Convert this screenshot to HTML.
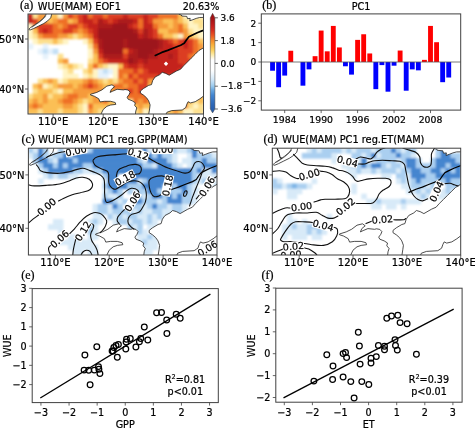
<!DOCTYPE html>
<html><head><meta charset="utf-8"><title>WUE EOF figure</title>
<style>html,body{margin:0;padding:0;background:#fff;} svg{display:block;}</style></head>
<body><svg width="475" height="429" viewBox="0 0 475 429" font-family="DejaVu Sans, Liberation Sans, sans-serif" fill="#000">
<style>text{stroke:#000;stroke-width:0.22px;}</style>
<rect width="475" height="429" fill="#fff"/>
<clipPath id="ca"><rect x="28" y="14" width="175.5" height="100"/></clipPath>
<g clip-path="url(#ca)"><g filter="url(#blurca)">
<filter id="blurca" x="-5%" y="-5%" width="110%" height="110%"><feGaussianBlur stdDeviation="1.0"/></filter>
<rect x="27.70" y="13.70" width="5.61" height="5.60" fill="#c4241d"/>
<rect x="32.71" y="13.70" width="5.61" height="5.60" fill="#fde08e"/>
<rect x="37.73" y="13.70" width="10.63" height="5.60" fill="#f69a3a"/>
<rect x="47.76" y="13.70" width="10.63" height="5.60" fill="#fbbf55"/>
<rect x="57.79" y="13.70" width="5.61" height="5.60" fill="#fff4c4"/>
<rect x="62.80" y="13.70" width="5.61" height="5.60" fill="#f69a3a"/>
<rect x="67.81" y="13.70" width="5.61" height="5.60" fill="#dc3d20"/>
<rect x="72.83" y="13.70" width="5.61" height="5.60" fill="#ef6f27"/>
<rect x="77.84" y="13.70" width="5.61" height="5.60" fill="#dc3d20"/>
<rect x="82.86" y="13.70" width="5.61" height="5.60" fill="#c4241d"/>
<rect x="87.87" y="13.70" width="5.61" height="5.60" fill="#ef6f27"/>
<rect x="92.89" y="13.70" width="10.63" height="5.60" fill="#dc3d20"/>
<rect x="102.91" y="13.70" width="5.61" height="5.60" fill="#ef6f27"/>
<rect x="107.93" y="13.70" width="15.64" height="5.60" fill="#dc3d20"/>
<rect x="122.97" y="13.70" width="5.61" height="5.60" fill="#c4241d"/>
<rect x="127.99" y="13.70" width="15.64" height="5.60" fill="#dc3d20"/>
<rect x="143.03" y="13.70" width="5.61" height="5.60" fill="#c4241d"/>
<rect x="148.04" y="13.70" width="10.63" height="5.60" fill="#dc3d20"/>
<rect x="158.07" y="13.70" width="20.66" height="5.60" fill="#ef6f27"/>
<rect x="178.13" y="13.70" width="5.61" height="5.60" fill="#fbbf55"/>
<rect x="183.14" y="13.70" width="20.66" height="5.60" fill="#fff4c4"/>
<rect x="27.70" y="18.70" width="5.61" height="5.60" fill="#c4241d"/>
<rect x="32.71" y="18.70" width="5.61" height="5.60" fill="#dc3d20"/>
<rect x="37.73" y="18.70" width="10.63" height="5.60" fill="#f69a3a"/>
<rect x="47.76" y="18.70" width="5.61" height="5.60" fill="#fbbf55"/>
<rect x="52.77" y="18.70" width="5.61" height="5.60" fill="#f69a3a"/>
<rect x="57.79" y="18.70" width="10.63" height="5.60" fill="#ef6f27"/>
<rect x="67.81" y="18.70" width="5.61" height="5.60" fill="#fbbf55"/>
<rect x="72.83" y="18.70" width="5.61" height="5.60" fill="#f69a3a"/>
<rect x="77.84" y="18.70" width="5.61" height="5.60" fill="#dc3d20"/>
<rect x="82.86" y="18.70" width="10.63" height="5.60" fill="#c4241d"/>
<rect x="92.89" y="18.70" width="5.61" height="5.60" fill="#dc3d20"/>
<rect x="97.90" y="18.70" width="5.61" height="5.60" fill="#ac1a1b"/>
<rect x="102.91" y="18.70" width="5.61" height="5.60" fill="#c4241d"/>
<rect x="107.93" y="18.70" width="5.61" height="5.60" fill="#dc3d20"/>
<rect x="112.94" y="18.70" width="5.61" height="5.60" fill="#c4241d"/>
<rect x="117.96" y="18.70" width="15.64" height="5.60" fill="#ac1a1b"/>
<rect x="133.00" y="18.70" width="5.61" height="5.60" fill="#c4241d"/>
<rect x="138.01" y="18.70" width="5.61" height="5.60" fill="#ef6f27"/>
<rect x="143.03" y="18.70" width="5.61" height="5.60" fill="#c4241d"/>
<rect x="148.04" y="18.70" width="5.61" height="5.60" fill="#dc3d20"/>
<rect x="153.06" y="18.70" width="10.63" height="5.60" fill="#f69a3a"/>
<rect x="163.09" y="18.70" width="10.63" height="5.60" fill="#fbbf55"/>
<rect x="173.11" y="18.70" width="5.61" height="5.60" fill="#f69a3a"/>
<rect x="178.13" y="18.70" width="5.61" height="5.60" fill="#fbbf55"/>
<rect x="183.14" y="18.70" width="5.61" height="5.60" fill="#fde08e"/>
<rect x="188.16" y="18.70" width="5.61" height="5.60" fill="#fff4c4"/>
<rect x="193.17" y="18.70" width="10.63" height="5.60" fill="#fde08e"/>
<rect x="27.70" y="23.70" width="5.61" height="5.60" fill="#fff4c4"/>
<rect x="32.71" y="23.70" width="5.61" height="5.60" fill="#ef6f27"/>
<rect x="37.73" y="23.70" width="15.64" height="5.60" fill="#dc3d20"/>
<rect x="52.77" y="23.70" width="5.61" height="5.60" fill="#ef6f27"/>
<rect x="57.79" y="23.70" width="5.61" height="5.60" fill="#f69a3a"/>
<rect x="62.80" y="23.70" width="5.61" height="5.60" fill="#ef6f27"/>
<rect x="67.81" y="23.70" width="10.63" height="5.60" fill="#dc3d20"/>
<rect x="77.84" y="23.70" width="5.61" height="5.60" fill="#ef6f27"/>
<rect x="82.86" y="23.70" width="5.61" height="5.60" fill="#dc3d20"/>
<rect x="87.87" y="23.70" width="10.63" height="5.60" fill="#c4241d"/>
<rect x="97.90" y="23.70" width="15.64" height="5.60" fill="#ac1a1b"/>
<rect x="112.94" y="23.70" width="15.64" height="5.60" fill="#9d151a"/>
<rect x="127.99" y="23.70" width="5.61" height="5.60" fill="#c4241d"/>
<rect x="133.00" y="23.70" width="5.61" height="5.60" fill="#dc3d20"/>
<rect x="138.01" y="23.70" width="5.61" height="5.60" fill="#ef6f27"/>
<rect x="143.03" y="23.70" width="10.63" height="5.60" fill="#c4241d"/>
<rect x="153.06" y="23.70" width="5.61" height="5.60" fill="#ef6f27"/>
<rect x="158.07" y="23.70" width="10.63" height="5.60" fill="#f69a3a"/>
<rect x="168.10" y="23.70" width="5.61" height="5.60" fill="#fbbf55"/>
<rect x="173.11" y="23.70" width="5.61" height="5.60" fill="#f69a3a"/>
<rect x="178.13" y="23.70" width="5.61" height="5.60" fill="#ef6f27"/>
<rect x="183.14" y="23.70" width="5.61" height="5.60" fill="#fbbf55"/>
<rect x="188.16" y="23.70" width="10.63" height="5.60" fill="#fff4c4"/>
<rect x="198.19" y="23.70" width="5.61" height="5.60" fill="#fde08e"/>
<rect x="27.70" y="28.70" width="5.61" height="5.60" fill="#fff4c4"/>
<rect x="32.71" y="28.70" width="5.61" height="5.60" fill="#fbbf55"/>
<rect x="37.73" y="28.70" width="5.61" height="5.60" fill="#dc3d20"/>
<rect x="42.74" y="28.70" width="5.61" height="5.60" fill="#c4241d"/>
<rect x="47.76" y="28.70" width="5.61" height="5.60" fill="#dc3d20"/>
<rect x="52.77" y="28.70" width="10.63" height="5.60" fill="#ef6f27"/>
<rect x="62.80" y="28.70" width="10.63" height="5.60" fill="#dc3d20"/>
<rect x="72.83" y="28.70" width="5.61" height="5.60" fill="#ef6f27"/>
<rect x="77.84" y="28.70" width="5.61" height="5.60" fill="#f69a3a"/>
<rect x="82.86" y="28.70" width="5.61" height="5.60" fill="#ef6f27"/>
<rect x="87.87" y="28.70" width="5.61" height="5.60" fill="#dc3d20"/>
<rect x="92.89" y="28.70" width="5.61" height="5.60" fill="#c4241d"/>
<rect x="97.90" y="28.70" width="35.70" height="5.60" fill="#9d151a"/>
<rect x="133.00" y="28.70" width="5.61" height="5.60" fill="#ac1a1b"/>
<rect x="138.01" y="28.70" width="5.61" height="5.60" fill="#dc3d20"/>
<rect x="143.03" y="28.70" width="5.61" height="5.60" fill="#ac1a1b"/>
<rect x="148.04" y="28.70" width="5.61" height="5.60" fill="#c4241d"/>
<rect x="153.06" y="28.70" width="5.61" height="5.60" fill="#dc3d20"/>
<rect x="158.07" y="28.70" width="10.63" height="5.60" fill="#fbbf55"/>
<rect x="168.10" y="28.70" width="10.63" height="5.60" fill="#f69a3a"/>
<rect x="178.13" y="28.70" width="5.61" height="5.60" fill="#ef6f27"/>
<rect x="183.14" y="28.70" width="5.61" height="5.60" fill="#f69a3a"/>
<rect x="188.16" y="28.70" width="5.61" height="5.60" fill="#fde08e"/>
<rect x="193.17" y="28.70" width="10.63" height="5.60" fill="#fff4c4"/>
<rect x="27.70" y="33.70" width="5.61" height="5.60" fill="#fff4c4"/>
<rect x="32.71" y="33.70" width="5.61" height="5.60" fill="#fde08e"/>
<rect x="37.73" y="33.70" width="5.61" height="5.60" fill="#f69a3a"/>
<rect x="42.74" y="33.70" width="15.64" height="5.60" fill="#ef6f27"/>
<rect x="57.79" y="33.70" width="10.63" height="5.60" fill="#f69a3a"/>
<rect x="67.81" y="33.70" width="5.61" height="5.60" fill="#fbbf55"/>
<rect x="72.83" y="33.70" width="5.61" height="5.60" fill="#fde08e"/>
<rect x="77.84" y="33.70" width="5.61" height="5.60" fill="#fbbf55"/>
<rect x="82.86" y="33.70" width="5.61" height="5.60" fill="#f69a3a"/>
<rect x="87.87" y="33.70" width="5.61" height="5.60" fill="#ef6f27"/>
<rect x="92.89" y="33.70" width="5.61" height="5.60" fill="#c4241d"/>
<rect x="97.90" y="33.70" width="40.71" height="5.60" fill="#9d151a"/>
<rect x="138.01" y="33.70" width="5.61" height="5.60" fill="#c4241d"/>
<rect x="143.03" y="33.70" width="5.61" height="5.60" fill="#ac1a1b"/>
<rect x="148.04" y="33.70" width="5.61" height="5.60" fill="#c4241d"/>
<rect x="153.06" y="33.70" width="5.61" height="5.60" fill="#dc3d20"/>
<rect x="158.07" y="33.70" width="5.61" height="5.60" fill="#ef6f27"/>
<rect x="163.09" y="33.70" width="10.63" height="5.60" fill="#fbbf55"/>
<rect x="173.11" y="33.70" width="5.61" height="5.60" fill="#fde08e"/>
<rect x="178.13" y="33.70" width="5.61" height="5.60" fill="#fff4c4"/>
<rect x="183.14" y="33.70" width="5.61" height="5.60" fill="#f69a3a"/>
<rect x="188.16" y="33.70" width="5.61" height="5.60" fill="#fbbf55"/>
<rect x="193.17" y="33.70" width="5.61" height="5.60" fill="#fde08e"/>
<rect x="198.19" y="33.70" width="5.61" height="5.60" fill="#fff4c4"/>
<rect x="32.71" y="38.70" width="5.61" height="5.60" fill="#fff4c4"/>
<rect x="37.73" y="38.70" width="15.64" height="5.60" fill="#fde08e"/>
<rect x="52.77" y="38.70" width="5.61" height="5.60" fill="#fbbf55"/>
<rect x="57.79" y="38.70" width="5.61" height="5.60" fill="#fde08e"/>
<rect x="62.80" y="38.70" width="5.61" height="5.60" fill="#fff4c4"/>
<rect x="82.86" y="38.70" width="5.61" height="5.60" fill="#fff4c4"/>
<rect x="87.87" y="38.70" width="5.61" height="5.60" fill="#fbbf55"/>
<rect x="92.89" y="38.70" width="5.61" height="5.60" fill="#dc3d20"/>
<rect x="97.90" y="38.70" width="5.61" height="5.60" fill="#ac1a1b"/>
<rect x="102.91" y="38.70" width="20.66" height="5.60" fill="#9d151a"/>
<rect x="122.97" y="38.70" width="5.61" height="5.60" fill="#ac1a1b"/>
<rect x="127.99" y="38.70" width="30.69" height="5.60" fill="#9d151a"/>
<rect x="158.07" y="38.70" width="5.61" height="5.60" fill="#ac1a1b"/>
<rect x="163.09" y="38.70" width="5.61" height="5.60" fill="#c4241d"/>
<rect x="168.10" y="38.70" width="5.61" height="5.60" fill="#dc3d20"/>
<rect x="173.11" y="38.70" width="5.61" height="5.60" fill="#ef6f27"/>
<rect x="178.13" y="38.70" width="5.61" height="5.60" fill="#dc3d20"/>
<rect x="183.14" y="38.70" width="5.61" height="5.60" fill="#c4241d"/>
<rect x="188.16" y="38.70" width="5.61" height="5.60" fill="#dc3d20"/>
<rect x="193.17" y="38.70" width="5.61" height="5.60" fill="#ef6f27"/>
<rect x="198.19" y="38.70" width="5.61" height="5.60" fill="#fbbf55"/>
<rect x="27.70" y="43.70" width="5.61" height="5.60" fill="#e6f2fb"/>
<rect x="42.74" y="43.70" width="5.61" height="5.60" fill="#e6f2fb"/>
<rect x="87.87" y="43.70" width="5.61" height="5.60" fill="#fde08e"/>
<rect x="92.89" y="43.70" width="5.61" height="5.60" fill="#ef6f27"/>
<rect x="97.90" y="43.70" width="5.61" height="5.60" fill="#ac1a1b"/>
<rect x="102.91" y="43.70" width="20.66" height="5.60" fill="#9d151a"/>
<rect x="122.97" y="43.70" width="5.61" height="5.60" fill="#ac1a1b"/>
<rect x="127.99" y="43.70" width="30.69" height="5.60" fill="#9d151a"/>
<rect x="158.07" y="43.70" width="5.61" height="5.60" fill="#ac1a1b"/>
<rect x="163.09" y="43.70" width="10.63" height="5.60" fill="#c4241d"/>
<rect x="173.11" y="43.70" width="10.63" height="5.60" fill="#dc3d20"/>
<rect x="183.14" y="43.70" width="5.61" height="5.60" fill="#c4241d"/>
<rect x="188.16" y="43.70" width="5.61" height="5.60" fill="#dc3d20"/>
<rect x="193.17" y="43.70" width="5.61" height="5.60" fill="#ef6f27"/>
<rect x="198.19" y="43.70" width="5.61" height="5.60" fill="#f69a3a"/>
<rect x="37.73" y="48.70" width="5.61" height="5.60" fill="#e6f2fb"/>
<rect x="42.74" y="48.70" width="5.61" height="5.60" fill="#c4e0f6"/>
<rect x="47.76" y="48.70" width="5.61" height="5.60" fill="#e6f2fb"/>
<rect x="52.77" y="48.70" width="5.61" height="5.60" fill="#c4e0f6"/>
<rect x="87.87" y="48.70" width="5.61" height="5.60" fill="#fff4c4"/>
<rect x="92.89" y="48.70" width="5.61" height="5.60" fill="#f69a3a"/>
<rect x="97.90" y="48.70" width="5.61" height="5.60" fill="#c4241d"/>
<rect x="102.91" y="48.70" width="20.66" height="5.60" fill="#9d151a"/>
<rect x="122.97" y="48.70" width="5.61" height="5.60" fill="#ef6f27"/>
<rect x="127.99" y="48.70" width="5.61" height="5.60" fill="#c4241d"/>
<rect x="133.00" y="48.70" width="5.61" height="5.60" fill="#ac1a1b"/>
<rect x="138.01" y="48.70" width="15.64" height="5.60" fill="#9d151a"/>
<rect x="153.06" y="48.70" width="5.61" height="5.60" fill="#ac1a1b"/>
<rect x="158.07" y="48.70" width="20.66" height="5.60" fill="#c4241d"/>
<rect x="178.13" y="48.70" width="15.64" height="5.60" fill="#dc3d20"/>
<rect x="193.17" y="48.70" width="5.61" height="5.60" fill="#ef6f27"/>
<rect x="198.19" y="48.70" width="5.61" height="5.60" fill="#f69a3a"/>
<rect x="42.74" y="53.70" width="5.61" height="5.60" fill="#e6f2fb"/>
<rect x="57.79" y="53.70" width="5.61" height="5.60" fill="#fde08e"/>
<rect x="87.87" y="53.70" width="5.61" height="5.60" fill="#fff4c4"/>
<rect x="92.89" y="53.70" width="5.61" height="5.60" fill="#fbbf55"/>
<rect x="97.90" y="53.70" width="5.61" height="5.60" fill="#dc3d20"/>
<rect x="102.91" y="53.70" width="20.66" height="5.60" fill="#ac1a1b"/>
<rect x="122.97" y="53.70" width="5.61" height="5.60" fill="#dc3d20"/>
<rect x="127.99" y="53.70" width="10.63" height="5.60" fill="#ac1a1b"/>
<rect x="138.01" y="53.70" width="10.63" height="5.60" fill="#9d151a"/>
<rect x="148.04" y="53.70" width="10.63" height="5.60" fill="#ac1a1b"/>
<rect x="158.07" y="53.70" width="10.63" height="5.60" fill="#c4241d"/>
<rect x="168.10" y="53.70" width="5.61" height="5.60" fill="#ac1a1b"/>
<rect x="173.11" y="53.70" width="5.61" height="5.60" fill="#c4241d"/>
<rect x="178.13" y="53.70" width="10.63" height="5.60" fill="#dc3d20"/>
<rect x="188.16" y="53.70" width="5.61" height="5.60" fill="#ef6f27"/>
<rect x="193.17" y="53.70" width="10.63" height="5.60" fill="#f69a3a"/>
<rect x="57.79" y="58.70" width="5.61" height="5.60" fill="#fbbf55"/>
<rect x="62.80" y="58.70" width="5.61" height="5.60" fill="#f69a3a"/>
<rect x="87.87" y="58.70" width="5.61" height="5.60" fill="#fde08e"/>
<rect x="92.89" y="58.70" width="5.61" height="5.60" fill="#fbbf55"/>
<rect x="97.90" y="58.70" width="5.61" height="5.60" fill="#ef6f27"/>
<rect x="102.91" y="58.70" width="5.61" height="5.60" fill="#dc3d20"/>
<rect x="107.93" y="58.70" width="20.66" height="5.60" fill="#c4241d"/>
<rect x="127.99" y="58.70" width="5.61" height="5.60" fill="#9d151a"/>
<rect x="133.00" y="58.70" width="5.61" height="5.60" fill="#ac1a1b"/>
<rect x="138.01" y="58.70" width="5.61" height="5.60" fill="#c4241d"/>
<rect x="143.03" y="58.70" width="5.61" height="5.60" fill="#ac1a1b"/>
<rect x="148.04" y="58.70" width="30.69" height="5.60" fill="#c4241d"/>
<rect x="178.13" y="58.70" width="25.67" height="5.60" fill="#dc3d20"/>
<rect x="57.79" y="63.70" width="5.61" height="5.60" fill="#fff4c4"/>
<rect x="62.80" y="63.70" width="5.61" height="5.60" fill="#fde08e"/>
<rect x="67.81" y="63.70" width="5.61" height="5.60" fill="#fbbf55"/>
<rect x="72.83" y="63.70" width="5.61" height="5.60" fill="#fde08e"/>
<rect x="77.84" y="63.70" width="5.61" height="5.60" fill="#fff4c4"/>
<rect x="87.87" y="63.70" width="5.61" height="5.60" fill="#fbbf55"/>
<rect x="92.89" y="63.70" width="5.61" height="5.60" fill="#ef6f27"/>
<rect x="97.90" y="63.70" width="5.61" height="5.60" fill="#fbbf55"/>
<rect x="102.91" y="63.70" width="5.61" height="5.60" fill="#fde08e"/>
<rect x="107.93" y="63.70" width="10.63" height="5.60" fill="#fff4c4"/>
<rect x="117.96" y="63.70" width="5.61" height="5.60" fill="#fbbf55"/>
<rect x="122.97" y="63.70" width="5.61" height="5.60" fill="#dc3d20"/>
<rect x="127.99" y="63.70" width="10.63" height="5.60" fill="#c4241d"/>
<rect x="138.01" y="63.70" width="5.61" height="5.60" fill="#dc3d20"/>
<rect x="143.03" y="63.70" width="40.71" height="5.60" fill="#c4241d"/>
<rect x="183.14" y="63.70" width="20.66" height="5.60" fill="#dc3d20"/>
<rect x="62.80" y="68.70" width="5.61" height="5.60" fill="#fff4c4"/>
<rect x="67.81" y="68.70" width="5.61" height="5.60" fill="#fde08e"/>
<rect x="82.86" y="68.70" width="5.61" height="5.60" fill="#fde08e"/>
<rect x="87.87" y="68.70" width="5.61" height="5.60" fill="#fbbf55"/>
<rect x="92.89" y="68.70" width="5.61" height="5.60" fill="#fff4c4"/>
<rect x="97.90" y="68.70" width="5.61" height="5.60" fill="#e6f2fb"/>
<rect x="102.91" y="68.70" width="5.61" height="5.60" fill="#c4e0f6"/>
<rect x="107.93" y="68.70" width="5.61" height="5.60" fill="#e6f2fb"/>
<rect x="112.94" y="68.70" width="5.61" height="5.60" fill="#fff4c4"/>
<rect x="117.96" y="68.70" width="15.64" height="5.60" fill="#ef6f27"/>
<rect x="133.00" y="68.70" width="5.61" height="5.60" fill="#dc3d20"/>
<rect x="138.01" y="68.70" width="5.61" height="5.60" fill="#ef6f27"/>
<rect x="143.03" y="68.70" width="5.61" height="5.60" fill="#dc3d20"/>
<rect x="148.04" y="68.70" width="30.69" height="5.60" fill="#c4241d"/>
<rect x="178.13" y="68.70" width="25.67" height="5.60" fill="#dc3d20"/>
<rect x="62.80" y="73.70" width="15.64" height="5.60" fill="#fff4c4"/>
<rect x="82.86" y="73.70" width="5.61" height="5.60" fill="#fff4c4"/>
<rect x="87.87" y="73.70" width="5.61" height="5.60" fill="#fde08e"/>
<rect x="92.89" y="73.70" width="5.61" height="5.60" fill="#fff4c4"/>
<rect x="97.90" y="73.70" width="10.63" height="5.60" fill="#e6f2fb"/>
<rect x="112.94" y="73.70" width="5.61" height="5.60" fill="#fff4c4"/>
<rect x="117.96" y="73.70" width="5.61" height="5.60" fill="#ef6f27"/>
<rect x="122.97" y="73.70" width="5.61" height="5.60" fill="#f69a3a"/>
<rect x="127.99" y="73.70" width="5.61" height="5.60" fill="#dc3d20"/>
<rect x="133.00" y="73.70" width="5.61" height="5.60" fill="#ef6f27"/>
<rect x="138.01" y="73.70" width="20.66" height="5.60" fill="#dc3d20"/>
<rect x="158.07" y="73.70" width="5.61" height="5.60" fill="#c4241d"/>
<rect x="163.09" y="73.70" width="40.71" height="5.60" fill="#dc3d20"/>
<rect x="37.73" y="78.70" width="5.61" height="5.60" fill="#fde08e"/>
<rect x="42.74" y="78.70" width="5.61" height="5.60" fill="#fbbf55"/>
<rect x="47.76" y="78.70" width="5.61" height="5.60" fill="#f69a3a"/>
<rect x="52.77" y="78.70" width="5.61" height="5.60" fill="#fbbf55"/>
<rect x="57.79" y="78.70" width="5.61" height="5.60" fill="#fff4c4"/>
<rect x="62.80" y="78.70" width="5.61" height="5.60" fill="#fde08e"/>
<rect x="67.81" y="78.70" width="15.64" height="5.60" fill="#fbbf55"/>
<rect x="82.86" y="78.70" width="5.61" height="5.60" fill="#f69a3a"/>
<rect x="87.87" y="78.70" width="5.61" height="5.60" fill="#ef6f27"/>
<rect x="92.89" y="78.70" width="5.61" height="5.60" fill="#f69a3a"/>
<rect x="97.90" y="78.70" width="5.61" height="5.60" fill="#fbbf55"/>
<rect x="102.91" y="78.70" width="5.61" height="5.60" fill="#fde08e"/>
<rect x="107.93" y="78.70" width="5.61" height="5.60" fill="#fbbf55"/>
<rect x="112.94" y="78.70" width="5.61" height="5.60" fill="#fde08e"/>
<rect x="117.96" y="78.70" width="5.61" height="5.60" fill="#f69a3a"/>
<rect x="122.97" y="78.70" width="10.63" height="5.60" fill="#ef6f27"/>
<rect x="133.00" y="78.70" width="5.61" height="5.60" fill="#dc3d20"/>
<rect x="138.01" y="78.70" width="5.61" height="5.60" fill="#ef6f27"/>
<rect x="143.03" y="78.70" width="5.61" height="5.60" fill="#dc3d20"/>
<rect x="148.04" y="78.70" width="55.76" height="5.60" fill="#f69a3a"/>
<rect x="32.71" y="83.70" width="5.61" height="5.60" fill="#fbbf55"/>
<rect x="37.73" y="83.70" width="5.61" height="5.60" fill="#f69a3a"/>
<rect x="42.74" y="83.70" width="5.61" height="5.60" fill="#fff4c4"/>
<rect x="47.76" y="83.70" width="5.61" height="5.60" fill="#fde08e"/>
<rect x="52.77" y="83.70" width="5.61" height="5.60" fill="#fbbf55"/>
<rect x="57.79" y="83.70" width="15.64" height="5.60" fill="#f69a3a"/>
<rect x="72.83" y="83.70" width="5.61" height="5.60" fill="#fbbf55"/>
<rect x="77.84" y="83.70" width="5.61" height="5.60" fill="#f69a3a"/>
<rect x="82.86" y="83.70" width="5.61" height="5.60" fill="#ef6f27"/>
<rect x="87.87" y="83.70" width="5.61" height="5.60" fill="#dc3d20"/>
<rect x="92.89" y="83.70" width="5.61" height="5.60" fill="#ef6f27"/>
<rect x="97.90" y="83.70" width="5.61" height="5.60" fill="#f69a3a"/>
<rect x="102.91" y="83.70" width="10.63" height="5.60" fill="#fbbf55"/>
<rect x="112.94" y="83.70" width="10.63" height="5.60" fill="#ef6f27"/>
<rect x="122.97" y="83.70" width="5.61" height="5.60" fill="#f69a3a"/>
<rect x="127.99" y="83.70" width="10.63" height="5.60" fill="#ef6f27"/>
<rect x="138.01" y="83.70" width="10.63" height="5.60" fill="#dc3d20"/>
<rect x="148.04" y="83.70" width="55.76" height="5.60" fill="#fbbf55"/>
<rect x="32.71" y="88.70" width="5.61" height="5.60" fill="#fde08e"/>
<rect x="37.73" y="88.70" width="15.64" height="5.60" fill="#fbbf55"/>
<rect x="52.77" y="88.70" width="5.61" height="5.60" fill="#fde08e"/>
<rect x="57.79" y="88.70" width="5.61" height="5.60" fill="#fff4c4"/>
<rect x="62.80" y="88.70" width="10.63" height="5.60" fill="#fbbf55"/>
<rect x="72.83" y="88.70" width="50.74" height="5.60" fill="#f69a3a"/>
<rect x="122.97" y="88.70" width="10.63" height="5.60" fill="#dc3d20"/>
<rect x="133.00" y="88.70" width="5.61" height="5.60" fill="#ef6f27"/>
<rect x="138.01" y="88.70" width="65.79" height="5.60" fill="#dc3d20"/>
<rect x="27.70" y="93.70" width="5.61" height="5.60" fill="#fde08e"/>
<rect x="32.71" y="93.70" width="10.63" height="5.60" fill="#fbbf55"/>
<rect x="42.74" y="93.70" width="5.61" height="5.60" fill="#f69a3a"/>
<rect x="47.76" y="93.70" width="5.61" height="5.60" fill="#fde08e"/>
<rect x="52.77" y="93.70" width="10.63" height="5.60" fill="#fbbf55"/>
<rect x="62.80" y="93.70" width="5.61" height="5.60" fill="#f69a3a"/>
<rect x="67.81" y="93.70" width="10.63" height="5.60" fill="#ef6f27"/>
<rect x="77.84" y="93.70" width="10.63" height="5.60" fill="#f69a3a"/>
<rect x="87.87" y="93.70" width="5.61" height="5.60" fill="#fbbf55"/>
<rect x="92.89" y="93.70" width="35.70" height="5.60" fill="#f69a3a"/>
<rect x="127.99" y="93.70" width="70.80" height="5.60" fill="#ef6f27"/>
<rect x="198.19" y="93.70" width="5.61" height="5.60" fill="#fbbf55"/>
<rect x="27.70" y="98.70" width="5.61" height="5.60" fill="#fbbf55"/>
<rect x="32.71" y="98.70" width="5.61" height="5.60" fill="#f69a3a"/>
<rect x="37.73" y="98.70" width="5.61" height="5.60" fill="#fbbf55"/>
<rect x="42.74" y="98.70" width="5.61" height="5.60" fill="#f69a3a"/>
<rect x="47.76" y="98.70" width="10.63" height="5.60" fill="#fbbf55"/>
<rect x="57.79" y="98.70" width="5.61" height="5.60" fill="#f69a3a"/>
<rect x="62.80" y="98.70" width="10.63" height="5.60" fill="#ef6f27"/>
<rect x="72.83" y="98.70" width="5.61" height="5.60" fill="#f69a3a"/>
<rect x="77.84" y="98.70" width="5.61" height="5.60" fill="#fbbf55"/>
<rect x="82.86" y="98.70" width="5.61" height="5.60" fill="#fde08e"/>
<rect x="87.87" y="98.70" width="5.61" height="5.60" fill="#fbbf55"/>
<rect x="92.89" y="98.70" width="10.63" height="5.60" fill="#f69a3a"/>
<rect x="102.91" y="98.70" width="5.61" height="5.60" fill="#ef6f27"/>
<rect x="107.93" y="98.70" width="5.61" height="5.60" fill="#fbbf55"/>
<rect x="112.94" y="98.70" width="20.66" height="5.60" fill="#fde08e"/>
<rect x="133.00" y="98.70" width="5.61" height="5.60" fill="#ef6f27"/>
<rect x="138.01" y="98.70" width="5.61" height="5.60" fill="#f69a3a"/>
<rect x="143.03" y="98.70" width="5.61" height="5.60" fill="#ef6f27"/>
<rect x="148.04" y="98.70" width="40.71" height="5.60" fill="#f69a3a"/>
<rect x="188.16" y="98.70" width="5.61" height="5.60" fill="#fbbf55"/>
<rect x="193.17" y="98.70" width="5.61" height="5.60" fill="#fde08e"/>
<rect x="198.19" y="98.70" width="5.61" height="5.60" fill="#fbbf55"/>
<rect x="27.70" y="103.70" width="5.61" height="5.60" fill="#f69a3a"/>
<rect x="32.71" y="103.70" width="5.61" height="5.60" fill="#ef6f27"/>
<rect x="37.73" y="103.70" width="5.61" height="5.60" fill="#f69a3a"/>
<rect x="42.74" y="103.70" width="20.66" height="5.60" fill="#fbbf55"/>
<rect x="62.80" y="103.70" width="10.63" height="5.60" fill="#f69a3a"/>
<rect x="72.83" y="103.70" width="5.61" height="5.60" fill="#fbbf55"/>
<rect x="77.84" y="103.70" width="5.61" height="5.60" fill="#fde08e"/>
<rect x="82.86" y="103.70" width="5.61" height="5.60" fill="#fff4c4"/>
<rect x="87.87" y="103.70" width="5.61" height="5.60" fill="#ef6f27"/>
<rect x="92.89" y="103.70" width="45.73" height="5.60" fill="#fbbf55"/>
<rect x="138.01" y="103.70" width="5.61" height="5.60" fill="#f69a3a"/>
<rect x="143.03" y="103.70" width="40.71" height="5.60" fill="#fbbf55"/>
<rect x="183.14" y="103.70" width="5.61" height="5.60" fill="#f69a3a"/>
<rect x="188.16" y="103.70" width="5.61" height="5.60" fill="#fde08e"/>
<rect x="193.17" y="103.70" width="5.61" height="5.60" fill="#fff4c4"/>
<rect x="198.19" y="103.70" width="5.61" height="5.60" fill="#fde08e"/>
<rect x="27.70" y="108.70" width="10.63" height="5.60" fill="#fbbf55"/>
<rect x="37.73" y="108.70" width="5.61" height="5.60" fill="#fde08e"/>
<rect x="42.74" y="108.70" width="15.64" height="5.60" fill="#fbbf55"/>
<rect x="57.79" y="108.70" width="5.61" height="5.60" fill="#fde08e"/>
<rect x="62.80" y="108.70" width="15.64" height="5.60" fill="#fbbf55"/>
<rect x="77.84" y="108.70" width="5.61" height="5.60" fill="#fde08e"/>
<rect x="82.86" y="108.70" width="5.61" height="5.60" fill="#fff4c4"/>
<rect x="87.87" y="108.70" width="5.61" height="5.60" fill="#f69a3a"/>
<rect x="92.89" y="108.70" width="5.61" height="5.60" fill="#fbbf55"/>
<rect x="97.90" y="108.70" width="40.71" height="5.60" fill="#fde08e"/>
<rect x="138.01" y="108.70" width="5.61" height="5.60" fill="#fbbf55"/>
<rect x="143.03" y="108.70" width="5.61" height="5.60" fill="#fff4c4"/>
<rect x="148.04" y="108.70" width="20.66" height="5.60" fill="#fde08e"/>
<rect x="168.10" y="108.70" width="5.61" height="5.60" fill="#fbbf55"/>
<rect x="173.11" y="108.70" width="5.61" height="5.60" fill="#f69a3a"/>
<rect x="178.13" y="108.70" width="5.61" height="5.60" fill="#fbbf55"/>
<rect x="183.14" y="108.70" width="10.63" height="5.60" fill="#fff4c4"/>
<rect x="193.17" y="108.70" width="10.63" height="5.60" fill="#fde08e"/>
</g></g>
<g clip-path="url(#ca)" stroke-linejoin="round">
<path d="M46.9,13.0 L43.8,17.8 L39.4,21.6 L34.3,25.1 L30.5,27.6 L28.9,29.2 L29.3,29.9 L30.5,29.8 L33.7,28.5 L38.7,26.0 L43.8,23.5 L47.6,20.9 L50.7,17.8 L52.0,13.0 Z" fill="#fff" stroke="#222" stroke-width="0.8"/>
<path d="M46.3,15.9 L40.6,21.3 L36.2,24.4 L31.8,27.3" fill="none" stroke="#333" stroke-width="0.6"/>
<path d="M179.1,13.0 L179.1,14.4 L181.4,15.0 L181.7,16.0 L186.8,16.4 L187.5,18.7 L190.2,18.4 L189.8,20.8 L192.9,19.7 L196.2,18.4 L199.6,17.5 L204.5,17.4 L204.5,13.0 Z" fill="#fff" stroke="#222" stroke-width="0.8"/>
<path d="M90.5,94.3 L96.8,92.4 L101.9,89.9 L106.9,86.1 L112.0,84.8 L114.5,86.7 L111.4,89.3 L110.1,92.4 L112.6,91.2 L117.1,89.3 L123.4,89.9 L125.0,89.5 L128.1,90.0 L130.1,92.1 L129.1,94.6 L127.1,97.2 L128.1,99.2 L132.2,100.8 L135.3,102.8 L134.7,105.4 L136.8,107.9 L135.8,111.0 L135.3,115.0 L100.6,115.0 L103.2,109.5 L106.9,106.3 L110.7,105.0 L115.8,104.4 L115.2,102.5 L110.7,101.3 L104.4,101.3 L100.0,101.9 L98.7,98.7 L94.3,96.2 L90.5,95.0 Z" fill="#fff" stroke="#222" stroke-width="0.8"/>
<path d="M204.5,47.2 L198.8,50.6 L195.0,54.4 L191.2,58.2 L187.4,62.0 L183.6,65.8 L180.6,69.2 L176.3,71.1 L169.2,75.2 L165.7,73.4 L162.2,72.3 L159.8,74.6 L155.1,77.0 L152.7,80.5 L151.5,84.6 L148.6,85.4 L143.5,88.5 L140.4,91.0 L140.4,93.1 L143.5,95.1 L146.5,97.7 L148.6,100.8 L150.1,104.9 L149.6,109.0 L148.6,115.0 L165.7,115.0 L166.9,112.3 L171.6,110.6 L182.2,110.0 L185.7,107.6 L186.9,104.1 L188.1,101.7 L190.5,102.9 L195.2,101.7 L199.9,98.8 L204.5,95.3 Z" fill="#fff" stroke="#222" stroke-width="0.8"/>
</g>
<g clip-path="url(#ca)"><path d="M155.3,55.4 L161.8,52.4 L167.7,50.4 L173.6,48.0 L180.7,45.3 L184.2,43.3 L186.6,39.7 L188.9,36.8 L192.5,35.0 L197.2,32.7 L201.9,30.9 L204.0,30.2" fill="none" stroke="#000" stroke-width="1.7" stroke-linecap="round" stroke-linejoin="round"/></g>
<path d="M166,61.6 L168.2,63.8 L166,66 L163.8,63.8 Z" fill="#fff"/>
<rect x="28" y="14" width="175.5" height="100" fill="none" stroke="#404040" stroke-width="1.0"/>
<line x1="25.00" y1="39.00" x2="28.00" y2="39.00" stroke="#404040" stroke-width="0.8"/>
<text x="24.20" y="42.60" font-size="10" text-anchor="end" >50°N</text>
<line x1="25.00" y1="89.00" x2="28.00" y2="89.00" stroke="#404040" stroke-width="0.8"/>
<text x="24.20" y="92.60" font-size="10" text-anchor="end" >40°N</text>
<line x1="53.10" y1="114.00" x2="53.10" y2="117.00" stroke="#404040" stroke-width="0.8"/>
<text x="53.10" y="125.20" font-size="10" text-anchor="middle" >110°E</text>
<line x1="103.20" y1="114.00" x2="103.20" y2="117.00" stroke="#404040" stroke-width="0.8"/>
<text x="103.20" y="125.20" font-size="10" text-anchor="middle" >120°E</text>
<line x1="153.40" y1="114.00" x2="153.40" y2="117.00" stroke="#404040" stroke-width="0.8"/>
<text x="153.40" y="125.20" font-size="10" text-anchor="middle" >130°E</text>
<line x1="203.50" y1="114.00" x2="203.50" y2="117.00" stroke="#404040" stroke-width="0.8"/>
<text x="203.50" y="125.20" font-size="10" text-anchor="middle" >140°E</text>
<text x="20.00" y="9.40" font-size="12" text-anchor="start" font-family="Liberation Serif, serif" stroke="#000" stroke-width="0.3">(a)</text>
<text x="37.80" y="9.50" font-size="9.8" text-anchor="start" >WUE(MAM) EOF1</text>
<text x="219.30" y="9.50" font-size="9.6" text-anchor="end" >20.63%</text>
<defs><linearGradient id="cbg" gradientUnits="userSpaceOnUse" x1="0" y1="13.3" x2="0" y2="112.9"><stop offset="0.0000" stop-color="#9a0f12"/><stop offset="0.0673" stop-color="#a81416"/><stop offset="0.1175" stop-color="#c01c1c"/><stop offset="0.1677" stop-color="#d52c1e"/><stop offset="0.2179" stop-color="#e95222"/><stop offset="0.2681" stop-color="#f4862a"/><stop offset="0.3183" stop-color="#f9b03c"/><stop offset="0.3685" stop-color="#fccf5c"/><stop offset="0.4086" stop-color="#fee89a"/><stop offset="0.4488" stop-color="#fff8e0"/><stop offset="0.4689" stop-color="#ffffff"/><stop offset="0.5693" stop-color="#ffffff"/><stop offset="0.6094" stop-color="#eef6fc"/><stop offset="0.6697" stop-color="#cfe6f7"/><stop offset="0.7299" stop-color="#9ccbee"/><stop offset="0.7701" stop-color="#6aa8e0"/><stop offset="0.8203" stop-color="#4386d1"/><stop offset="0.9106" stop-color="#2d68b8"/><stop offset="1.0000" stop-color="#2459a8"/></linearGradient></defs>
<path d="M210.3,17.8 L212.60000000000002,13.3 L214.9,17.8 L214.9,109.0 L212.60000000000002,112.9 L210.3,109.0 Z" fill="url(#cbg)" stroke="#404040" stroke-width="0.5"/>
<line x1="214.90" y1="17.80" x2="217.90" y2="17.80" stroke="#404040" stroke-width="0.8"/>
<text x="220.50" y="21.00" font-size="8.9" text-anchor="start" >3.6</text>
<line x1="214.90" y1="40.60" x2="217.90" y2="40.60" stroke="#404040" stroke-width="0.8"/>
<text x="220.50" y="43.80" font-size="8.9" text-anchor="start" >1.8</text>
<line x1="214.90" y1="63.40" x2="217.90" y2="63.40" stroke="#404040" stroke-width="0.8"/>
<text x="220.50" y="66.60" font-size="8.9" text-anchor="start" >0.0</text>
<line x1="214.90" y1="86.20" x2="217.90" y2="86.20" stroke="#404040" stroke-width="0.8"/>
<text x="220.50" y="89.40" font-size="8.9" text-anchor="start" >−1.8</text>
<line x1="214.90" y1="109.00" x2="217.90" y2="109.00" stroke="#404040" stroke-width="0.8"/>
<text x="220.50" y="112.20" font-size="8.9" text-anchor="start" >−3.6</text>
<text x="262.20" y="8.80" font-size="12" text-anchor="start" font-family="Liberation Serif, serif" stroke="#000" stroke-width="0.3">(b)</text>
<text x="361.00" y="9.50" font-size="9.6" text-anchor="middle" >PC1</text>
<rect x="270.12" y="62.00" width="4.86" height="8.73" fill="#0000ff" />
<rect x="276.19" y="62.00" width="4.86" height="25.22" fill="#0000ff" />
<rect x="282.27" y="62.00" width="4.86" height="13.58" fill="#0000ff" />
<rect x="288.34" y="50.75" width="4.86" height="11.25" fill="#ff0000" />
<rect x="294.42" y="62.00" width="4.86" height="0.00" fill="#ff0000" />
<rect x="300.50" y="62.00" width="4.86" height="23.67" fill="#0000ff" />
<rect x="306.57" y="62.00" width="4.86" height="7.37" fill="#0000ff" />
<rect x="312.64" y="56.18" width="4.86" height="5.82" fill="#ff0000" />
<rect x="318.72" y="30.57" width="4.86" height="31.43" fill="#ff0000" />
<rect x="324.79" y="51.33" width="4.86" height="10.67" fill="#ff0000" />
<rect x="330.87" y="25.92" width="4.86" height="36.08" fill="#ff0000" />
<rect x="336.94" y="47.45" width="4.86" height="14.55" fill="#ff0000" />
<rect x="343.02" y="62.00" width="4.86" height="4.27" fill="#0000ff" />
<rect x="349.09" y="62.00" width="4.86" height="12.61" fill="#0000ff" />
<rect x="355.17" y="39.88" width="4.86" height="22.12" fill="#ff0000" />
<rect x="361.25" y="34.26" width="4.86" height="27.74" fill="#ff0000" />
<rect x="367.32" y="53.46" width="4.86" height="8.54" fill="#ff0000" />
<rect x="373.39" y="62.00" width="4.86" height="27.16" fill="#0000ff" />
<rect x="379.47" y="62.00" width="4.86" height="3.10" fill="#0000ff" />
<rect x="385.55" y="62.00" width="4.86" height="29.68" fill="#0000ff" />
<rect x="391.62" y="62.00" width="4.86" height="3.69" fill="#0000ff" />
<rect x="397.69" y="50.55" width="4.86" height="11.45" fill="#ff0000" />
<rect x="403.77" y="62.00" width="4.86" height="28.71" fill="#0000ff" />
<rect x="409.84" y="62.00" width="4.86" height="7.37" fill="#0000ff" />
<rect x="415.92" y="62.00" width="4.86" height="8.34" fill="#0000ff" />
<rect x="421.99" y="59.87" width="4.86" height="2.13" fill="#ff0000" />
<rect x="428.07" y="25.92" width="4.86" height="36.08" fill="#ff0000" />
<rect x="434.14" y="42.21" width="4.86" height="19.79" fill="#ff0000" />
<rect x="440.22" y="62.00" width="4.86" height="20.18" fill="#0000ff" />
<rect x="446.30" y="62.00" width="4.86" height="15.52" fill="#0000ff" />
<line x1="261.30" y1="62.00" x2="460.70" y2="62.00" stroke="#555" stroke-width="0.8"/>
<rect x="261.3" y="13.9" width="199.39999999999998" height="96.19999999999999" fill="none" stroke="#404040" stroke-width="1.0"/>
<line x1="258.30" y1="23.20" x2="261.30" y2="23.20" stroke="#404040" stroke-width="0.8"/>
<text x="256.30" y="26.50" font-size="9" text-anchor="end" >2</text>
<line x1="258.30" y1="42.60" x2="261.30" y2="42.60" stroke="#404040" stroke-width="0.8"/>
<text x="256.30" y="45.90" font-size="9" text-anchor="end" >1</text>
<line x1="258.30" y1="62.00" x2="261.30" y2="62.00" stroke="#404040" stroke-width="0.8"/>
<text x="256.30" y="65.30" font-size="9" text-anchor="end" >0</text>
<line x1="258.30" y1="81.40" x2="261.30" y2="81.40" stroke="#404040" stroke-width="0.8"/>
<text x="256.30" y="84.70" font-size="9" text-anchor="end" >−1</text>
<line x1="258.30" y1="100.80" x2="261.30" y2="100.80" stroke="#404040" stroke-width="0.8"/>
<text x="256.30" y="104.10" font-size="9" text-anchor="end" >−2</text>
<line x1="284.70" y1="110.10" x2="284.70" y2="113.10" stroke="#404040" stroke-width="0.8"/>
<text x="284.70" y="122.70" font-size="9.3" text-anchor="middle" >1984</text>
<line x1="321.15" y1="110.10" x2="321.15" y2="113.10" stroke="#404040" stroke-width="0.8"/>
<text x="321.15" y="122.70" font-size="9.3" text-anchor="middle" >1990</text>
<line x1="357.60" y1="110.10" x2="357.60" y2="113.10" stroke="#404040" stroke-width="0.8"/>
<text x="357.60" y="122.70" font-size="9.3" text-anchor="middle" >1996</text>
<line x1="394.05" y1="110.10" x2="394.05" y2="113.10" stroke="#404040" stroke-width="0.8"/>
<text x="394.05" y="122.70" font-size="9.3" text-anchor="middle" >2002</text>
<line x1="430.50" y1="110.10" x2="430.50" y2="113.10" stroke="#404040" stroke-width="0.8"/>
<text x="430.50" y="122.70" font-size="9.3" text-anchor="middle" >2008</text>
<clipPath id="cc"><rect x="28.4" y="148.2" width="188.6" height="106.80000000000001"/></clipPath>
<g clip-path="url(#cc)"><g filter="url(#blurcc)">
<filter id="blurcc" x="-5%" y="-5%" width="110%" height="110%"><feGaussianBlur stdDeviation="0.8"/></filter>
<rect x="28.10" y="147.90" width="5.56" height="5.69" fill="#aacff0"/>
<rect x="33.06" y="147.90" width="5.56" height="5.69" fill="#d8eaf8"/>
<rect x="38.03" y="147.90" width="5.56" height="5.69" fill="#4585cf"/>
<rect x="42.99" y="147.90" width="5.56" height="5.69" fill="#aacff0"/>
<rect x="57.88" y="147.90" width="5.56" height="5.69" fill="#aacff0"/>
<rect x="87.66" y="147.90" width="5.56" height="5.69" fill="#aacff0"/>
<rect x="92.62" y="147.90" width="35.34" height="5.69" fill="#4585cf"/>
<rect x="142.25" y="147.90" width="5.56" height="5.69" fill="#4585cf"/>
<rect x="147.22" y="147.90" width="5.56" height="5.69" fill="#d8eaf8"/>
<rect x="167.07" y="147.90" width="5.56" height="5.69" fill="#4585cf"/>
<rect x="172.03" y="147.90" width="5.56" height="5.69" fill="#aacff0"/>
<rect x="176.99" y="147.90" width="10.53" height="5.69" fill="#d8eaf8"/>
<rect x="186.92" y="147.90" width="5.56" height="5.69" fill="#aacff0"/>
<rect x="191.88" y="147.90" width="5.56" height="5.69" fill="#4585cf"/>
<rect x="28.10" y="152.99" width="5.56" height="5.69" fill="#d8eaf8"/>
<rect x="33.06" y="152.99" width="5.56" height="5.69" fill="#aacff0"/>
<rect x="38.03" y="152.99" width="5.56" height="5.69" fill="#4585cf"/>
<rect x="42.99" y="152.99" width="5.56" height="5.69" fill="#aacff0"/>
<rect x="47.95" y="152.99" width="5.56" height="5.69" fill="#d8eaf8"/>
<rect x="52.92" y="152.99" width="10.53" height="5.69" fill="#aacff0"/>
<rect x="62.84" y="152.99" width="5.56" height="5.69" fill="#4585cf"/>
<rect x="67.81" y="152.99" width="5.56" height="5.69" fill="#aacff0"/>
<rect x="72.77" y="152.99" width="70.08" height="5.69" fill="#4585cf"/>
<rect x="142.25" y="152.99" width="5.56" height="5.69" fill="#d8eaf8"/>
<rect x="147.22" y="152.99" width="5.56" height="5.69" fill="#4585cf"/>
<rect x="152.18" y="152.99" width="5.56" height="5.69" fill="#aacff0"/>
<rect x="157.14" y="152.99" width="5.56" height="5.69" fill="#4585cf"/>
<rect x="162.11" y="152.99" width="10.53" height="5.69" fill="#aacff0"/>
<rect x="172.03" y="152.99" width="5.56" height="5.69" fill="#d8eaf8"/>
<rect x="186.92" y="152.99" width="5.56" height="5.69" fill="#d8eaf8"/>
<rect x="191.88" y="152.99" width="5.56" height="5.69" fill="#4585cf"/>
<rect x="196.85" y="152.99" width="15.49" height="5.69" fill="#aacff0"/>
<rect x="211.74" y="152.99" width="5.56" height="5.69" fill="#d8eaf8"/>
<rect x="33.06" y="158.07" width="5.56" height="5.69" fill="#aacff0"/>
<rect x="38.03" y="158.07" width="10.53" height="5.69" fill="#4585cf"/>
<rect x="47.95" y="158.07" width="5.56" height="5.69" fill="#aacff0"/>
<rect x="52.92" y="158.07" width="5.56" height="5.69" fill="#d8eaf8"/>
<rect x="57.88" y="158.07" width="15.49" height="5.69" fill="#4585cf"/>
<rect x="72.77" y="158.07" width="5.56" height="5.69" fill="#aacff0"/>
<rect x="77.73" y="158.07" width="60.16" height="5.69" fill="#4585cf"/>
<rect x="137.29" y="158.07" width="5.56" height="5.69" fill="#aacff0"/>
<rect x="142.25" y="158.07" width="5.56" height="5.69" fill="#d8eaf8"/>
<rect x="147.22" y="158.07" width="20.45" height="5.69" fill="#4585cf"/>
<rect x="167.07" y="158.07" width="5.56" height="5.69" fill="#aacff0"/>
<rect x="172.03" y="158.07" width="5.56" height="5.69" fill="#d8eaf8"/>
<rect x="181.96" y="158.07" width="10.53" height="5.69" fill="#d8eaf8"/>
<rect x="191.88" y="158.07" width="10.53" height="5.69" fill="#aacff0"/>
<rect x="201.81" y="158.07" width="5.56" height="5.69" fill="#4585cf"/>
<rect x="206.77" y="158.07" width="10.53" height="5.69" fill="#aacff0"/>
<rect x="38.03" y="163.16" width="5.56" height="5.69" fill="#aacff0"/>
<rect x="42.99" y="163.16" width="10.53" height="5.69" fill="#4585cf"/>
<rect x="52.92" y="163.16" width="5.56" height="5.69" fill="#aacff0"/>
<rect x="57.88" y="163.16" width="5.56" height="5.69" fill="#4585cf"/>
<rect x="62.84" y="163.16" width="5.56" height="5.69" fill="#aacff0"/>
<rect x="67.81" y="163.16" width="15.49" height="5.69" fill="#4585cf"/>
<rect x="82.69" y="163.16" width="10.53" height="5.69" fill="#aacff0"/>
<rect x="92.62" y="163.16" width="50.23" height="5.69" fill="#4585cf"/>
<rect x="142.25" y="163.16" width="10.53" height="5.69" fill="#aacff0"/>
<rect x="152.18" y="163.16" width="5.56" height="5.69" fill="#d8eaf8"/>
<rect x="157.14" y="163.16" width="15.49" height="5.69" fill="#4585cf"/>
<rect x="172.03" y="163.16" width="5.56" height="5.69" fill="#aacff0"/>
<rect x="176.99" y="163.16" width="5.56" height="5.69" fill="#d8eaf8"/>
<rect x="186.92" y="163.16" width="5.56" height="5.69" fill="#d8eaf8"/>
<rect x="191.88" y="163.16" width="10.53" height="5.69" fill="#aacff0"/>
<rect x="201.81" y="163.16" width="15.49" height="5.69" fill="#4585cf"/>
<rect x="38.03" y="168.24" width="5.56" height="5.69" fill="#d8eaf8"/>
<rect x="42.99" y="168.24" width="5.56" height="5.69" fill="#aacff0"/>
<rect x="47.95" y="168.24" width="25.42" height="5.69" fill="#4585cf"/>
<rect x="72.77" y="168.24" width="10.53" height="5.69" fill="#aacff0"/>
<rect x="82.69" y="168.24" width="10.53" height="5.69" fill="#d8eaf8"/>
<rect x="92.62" y="168.24" width="10.53" height="5.69" fill="#aacff0"/>
<rect x="102.55" y="168.24" width="89.94" height="5.69" fill="#4585cf"/>
<rect x="191.88" y="168.24" width="5.56" height="5.69" fill="#aacff0"/>
<rect x="196.85" y="168.24" width="5.56" height="5.69" fill="#4585cf"/>
<rect x="201.81" y="168.24" width="10.53" height="5.69" fill="#d8eaf8"/>
<rect x="211.74" y="168.24" width="5.56" height="5.69" fill="#4585cf"/>
<rect x="42.99" y="173.33" width="5.56" height="5.69" fill="#d8eaf8"/>
<rect x="47.95" y="173.33" width="5.56" height="5.69" fill="#aacff0"/>
<rect x="52.92" y="173.33" width="5.56" height="5.69" fill="#d8eaf8"/>
<rect x="57.88" y="173.33" width="10.53" height="5.69" fill="#aacff0"/>
<rect x="67.81" y="173.33" width="10.53" height="5.69" fill="#d8eaf8"/>
<rect x="102.55" y="173.33" width="5.56" height="5.69" fill="#aacff0"/>
<rect x="107.51" y="173.33" width="10.53" height="5.69" fill="#4585cf"/>
<rect x="132.33" y="173.33" width="60.16" height="5.69" fill="#4585cf"/>
<rect x="191.88" y="173.33" width="5.56" height="5.69" fill="#aacff0"/>
<rect x="196.85" y="173.33" width="20.45" height="5.69" fill="#d8eaf8"/>
<rect x="38.03" y="178.41" width="5.56" height="5.69" fill="#d8eaf8"/>
<rect x="102.55" y="178.41" width="5.56" height="5.69" fill="#d8eaf8"/>
<rect x="107.51" y="178.41" width="30.38" height="5.69" fill="#4585cf"/>
<rect x="137.29" y="178.41" width="5.56" height="5.69" fill="#d8eaf8"/>
<rect x="142.25" y="178.41" width="5.56" height="5.69" fill="#aacff0"/>
<rect x="147.22" y="178.41" width="20.45" height="5.69" fill="#4585cf"/>
<rect x="172.03" y="178.41" width="20.45" height="5.69" fill="#4585cf"/>
<rect x="191.88" y="178.41" width="5.56" height="5.69" fill="#aacff0"/>
<rect x="196.85" y="178.41" width="5.56" height="5.69" fill="#d8eaf8"/>
<rect x="201.81" y="178.41" width="5.56" height="5.69" fill="#aacff0"/>
<rect x="206.77" y="178.41" width="10.53" height="5.69" fill="#d8eaf8"/>
<rect x="102.55" y="183.50" width="5.56" height="5.69" fill="#aacff0"/>
<rect x="107.51" y="183.50" width="20.45" height="5.69" fill="#4585cf"/>
<rect x="127.36" y="183.50" width="15.49" height="5.69" fill="#aacff0"/>
<rect x="142.25" y="183.50" width="20.45" height="5.69" fill="#4585cf"/>
<rect x="167.07" y="183.50" width="5.56" height="5.69" fill="#4585cf"/>
<rect x="172.03" y="183.50" width="5.56" height="5.69" fill="#aacff0"/>
<rect x="176.99" y="183.50" width="10.53" height="5.69" fill="#4585cf"/>
<rect x="186.92" y="183.50" width="5.56" height="5.69" fill="#aacff0"/>
<rect x="191.88" y="183.50" width="5.56" height="5.69" fill="#d8eaf8"/>
<rect x="206.77" y="183.50" width="10.53" height="5.69" fill="#d8eaf8"/>
<rect x="102.55" y="188.59" width="5.56" height="5.69" fill="#d8eaf8"/>
<rect x="107.51" y="188.59" width="5.56" height="5.69" fill="#aacff0"/>
<rect x="112.47" y="188.59" width="5.56" height="5.69" fill="#4585cf"/>
<rect x="117.44" y="188.59" width="5.56" height="5.69" fill="#aacff0"/>
<rect x="127.36" y="188.59" width="5.56" height="5.69" fill="#aacff0"/>
<rect x="132.33" y="188.59" width="5.56" height="5.69" fill="#d8eaf8"/>
<rect x="137.29" y="188.59" width="10.53" height="5.69" fill="#aacff0"/>
<rect x="147.22" y="188.59" width="10.53" height="5.69" fill="#4585cf"/>
<rect x="157.14" y="188.59" width="5.56" height="5.69" fill="#aacff0"/>
<rect x="167.07" y="188.59" width="15.49" height="5.69" fill="#aacff0"/>
<rect x="181.96" y="188.59" width="5.56" height="5.69" fill="#4585cf"/>
<rect x="186.92" y="188.59" width="5.56" height="5.69" fill="#aacff0"/>
<rect x="191.88" y="188.59" width="10.53" height="5.69" fill="#d8eaf8"/>
<rect x="102.55" y="193.67" width="5.56" height="5.69" fill="#aacff0"/>
<rect x="107.51" y="193.67" width="10.53" height="5.69" fill="#d8eaf8"/>
<rect x="117.44" y="193.67" width="5.56" height="5.69" fill="#aacff0"/>
<rect x="132.33" y="193.67" width="10.53" height="5.69" fill="#aacff0"/>
<rect x="142.25" y="193.67" width="5.56" height="5.69" fill="#d8eaf8"/>
<rect x="147.22" y="193.67" width="5.56" height="5.69" fill="#aacff0"/>
<rect x="152.18" y="193.67" width="10.53" height="5.69" fill="#4585cf"/>
<rect x="162.11" y="193.67" width="5.56" height="5.69" fill="#aacff0"/>
<rect x="167.07" y="193.67" width="5.56" height="5.69" fill="#4585cf"/>
<rect x="172.03" y="193.67" width="5.56" height="5.69" fill="#aacff0"/>
<rect x="176.99" y="193.67" width="5.56" height="5.69" fill="#4585cf"/>
<rect x="181.96" y="193.67" width="10.53" height="5.69" fill="#aacff0"/>
<rect x="191.88" y="193.67" width="5.56" height="5.69" fill="#d8eaf8"/>
<rect x="102.55" y="198.76" width="10.53" height="5.69" fill="#4585cf"/>
<rect x="112.47" y="198.76" width="5.56" height="5.69" fill="#aacff0"/>
<rect x="117.44" y="198.76" width="5.56" height="5.69" fill="#d8eaf8"/>
<rect x="122.40" y="198.76" width="5.56" height="5.69" fill="#aacff0"/>
<rect x="132.33" y="198.76" width="10.53" height="5.69" fill="#4585cf"/>
<rect x="142.25" y="198.76" width="15.49" height="5.69" fill="#aacff0"/>
<rect x="157.14" y="198.76" width="5.56" height="5.69" fill="#d8eaf8"/>
<rect x="162.11" y="198.76" width="5.56" height="5.69" fill="#aacff0"/>
<rect x="167.07" y="198.76" width="15.49" height="5.69" fill="#4585cf"/>
<rect x="181.96" y="198.76" width="10.53" height="5.69" fill="#aacff0"/>
<rect x="191.88" y="198.76" width="5.56" height="5.69" fill="#d8eaf8"/>
<rect x="92.62" y="203.84" width="5.56" height="5.69" fill="#d8eaf8"/>
<rect x="97.58" y="203.84" width="10.53" height="5.69" fill="#aacff0"/>
<rect x="107.51" y="203.84" width="5.56" height="5.69" fill="#d8eaf8"/>
<rect x="112.47" y="203.84" width="5.56" height="5.69" fill="#4585cf"/>
<rect x="117.44" y="203.84" width="5.56" height="5.69" fill="#aacff0"/>
<rect x="127.36" y="203.84" width="5.56" height="5.69" fill="#4585cf"/>
<rect x="132.33" y="203.84" width="10.53" height="5.69" fill="#aacff0"/>
<rect x="142.25" y="203.84" width="5.56" height="5.69" fill="#d8eaf8"/>
<rect x="147.22" y="203.84" width="5.56" height="5.69" fill="#aacff0"/>
<rect x="152.18" y="203.84" width="5.56" height="5.69" fill="#4585cf"/>
<rect x="157.14" y="203.84" width="10.53" height="5.69" fill="#aacff0"/>
<rect x="167.07" y="203.84" width="5.56" height="5.69" fill="#d8eaf8"/>
<rect x="172.03" y="203.84" width="10.53" height="5.69" fill="#aacff0"/>
<rect x="181.96" y="203.84" width="5.56" height="5.69" fill="#d8eaf8"/>
<rect x="92.62" y="208.93" width="5.56" height="5.69" fill="#d8eaf8"/>
<rect x="97.58" y="208.93" width="10.53" height="5.69" fill="#aacff0"/>
<rect x="107.51" y="208.93" width="5.56" height="5.69" fill="#d8eaf8"/>
<rect x="112.47" y="208.93" width="20.45" height="5.69" fill="#aacff0"/>
<rect x="132.33" y="208.93" width="5.56" height="5.69" fill="#d8eaf8"/>
<rect x="137.29" y="208.93" width="5.56" height="5.69" fill="#aacff0"/>
<rect x="142.25" y="208.93" width="10.53" height="5.69" fill="#d8eaf8"/>
<rect x="152.18" y="208.93" width="10.53" height="5.69" fill="#aacff0"/>
<rect x="162.11" y="208.93" width="10.53" height="5.69" fill="#d8eaf8"/>
<rect x="172.03" y="208.93" width="10.53" height="5.69" fill="#aacff0"/>
<rect x="181.96" y="208.93" width="5.56" height="5.69" fill="#d8eaf8"/>
<rect x="92.62" y="214.01" width="10.53" height="5.69" fill="#d8eaf8"/>
<rect x="107.51" y="214.01" width="5.56" height="5.69" fill="#aacff0"/>
<rect x="112.47" y="214.01" width="5.56" height="5.69" fill="#d8eaf8"/>
<rect x="117.44" y="214.01" width="5.56" height="5.69" fill="#aacff0"/>
<rect x="122.40" y="214.01" width="5.56" height="5.69" fill="#d8eaf8"/>
<rect x="127.36" y="214.01" width="10.53" height="5.69" fill="#aacff0"/>
<rect x="137.29" y="214.01" width="10.53" height="5.69" fill="#d8eaf8"/>
<rect x="147.22" y="214.01" width="5.56" height="5.69" fill="#aacff0"/>
<rect x="152.18" y="214.01" width="5.56" height="5.69" fill="#d8eaf8"/>
<rect x="157.14" y="214.01" width="5.56" height="5.69" fill="#aacff0"/>
<rect x="162.11" y="214.01" width="5.56" height="5.69" fill="#d8eaf8"/>
<rect x="167.07" y="214.01" width="5.56" height="5.69" fill="#aacff0"/>
<rect x="52.92" y="219.10" width="10.53" height="5.69" fill="#d8eaf8"/>
<rect x="87.66" y="219.10" width="5.56" height="5.69" fill="#d8eaf8"/>
<rect x="92.62" y="219.10" width="5.56" height="5.69" fill="#aacff0"/>
<rect x="97.58" y="219.10" width="5.56" height="5.69" fill="#d8eaf8"/>
<rect x="112.47" y="219.10" width="5.56" height="5.69" fill="#d8eaf8"/>
<rect x="117.44" y="219.10" width="10.53" height="5.69" fill="#aacff0"/>
<rect x="127.36" y="219.10" width="5.56" height="5.69" fill="#d8eaf8"/>
<rect x="132.33" y="219.10" width="10.53" height="5.69" fill="#aacff0"/>
<rect x="142.25" y="219.10" width="5.56" height="5.69" fill="#d8eaf8"/>
<rect x="147.22" y="219.10" width="5.56" height="5.69" fill="#aacff0"/>
<rect x="152.18" y="219.10" width="5.56" height="5.69" fill="#d8eaf8"/>
<rect x="162.11" y="219.10" width="5.56" height="5.69" fill="#d8eaf8"/>
<rect x="47.95" y="224.19" width="15.49" height="5.69" fill="#d8eaf8"/>
<rect x="87.66" y="224.19" width="5.56" height="5.69" fill="#aacff0"/>
<rect x="92.62" y="224.19" width="5.56" height="5.69" fill="#d8eaf8"/>
<rect x="127.36" y="224.19" width="5.56" height="5.69" fill="#aacff0"/>
<rect x="132.33" y="224.19" width="5.56" height="5.69" fill="#d8eaf8"/>
<rect x="137.29" y="224.19" width="5.56" height="5.69" fill="#aacff0"/>
<rect x="147.22" y="224.19" width="10.53" height="5.69" fill="#d8eaf8"/>
<rect x="57.88" y="229.27" width="5.56" height="5.69" fill="#d8eaf8"/>
<rect x="87.66" y="229.27" width="5.56" height="5.69" fill="#aacff0"/>
<rect x="92.62" y="229.27" width="5.56" height="5.69" fill="#d8eaf8"/>
<rect x="132.33" y="229.27" width="5.56" height="5.69" fill="#d8eaf8"/>
<rect x="137.29" y="229.27" width="5.56" height="5.69" fill="#aacff0"/>
<rect x="142.25" y="229.27" width="5.56" height="5.69" fill="#d8eaf8"/>
<rect x="67.81" y="234.36" width="15.49" height="5.69" fill="#d8eaf8"/>
<rect x="87.66" y="234.36" width="10.53" height="5.69" fill="#d8eaf8"/>
<rect x="137.29" y="234.36" width="10.53" height="5.69" fill="#d8eaf8"/>
<rect x="147.22" y="234.36" width="5.56" height="5.69" fill="#aacff0"/>
<rect x="152.18" y="234.36" width="5.56" height="5.69" fill="#d8eaf8"/>
<rect x="57.88" y="239.44" width="35.34" height="5.69" fill="#d8eaf8"/>
<rect x="137.29" y="239.44" width="5.56" height="5.69" fill="#d8eaf8"/>
<rect x="142.25" y="239.44" width="5.56" height="5.69" fill="#aacff0"/>
<rect x="147.22" y="239.44" width="10.53" height="5.69" fill="#d8eaf8"/>
<rect x="67.81" y="244.53" width="30.38" height="5.69" fill="#d8eaf8"/>
<rect x="142.25" y="244.53" width="15.49" height="5.69" fill="#d8eaf8"/>
<rect x="72.77" y="249.61" width="10.53" height="5.69" fill="#d8eaf8"/>
<rect x="87.66" y="249.61" width="10.53" height="5.69" fill="#d8eaf8"/>
<rect x="142.25" y="249.61" width="10.53" height="5.69" fill="#d8eaf8"/>
</g></g>
<g clip-path="url(#cc)" stroke-linejoin="round">
<path d="M48.7,147.1 L45.4,152.3 L40.7,156.3 L35.2,160.1 L31.1,162.7 L29.4,164.4 L29.8,165.2 L31.1,165.1 L34.5,163.7 L39.9,161.0 L45.4,158.3 L49.5,155.6 L52.8,152.3 L54.2,147.1 Z" fill="none" stroke="#222" stroke-width="0.8"/>
<path d="M48.1,150.2 L41.9,156.0 L37.2,159.3 L32.5,162.4" fill="none" stroke="#333" stroke-width="0.6"/>
<path d="M190.8,147.1 L190.8,148.6 L193.3,149.3 L193.6,150.3 L199.1,150.8 L199.8,153.2 L202.7,152.9 L202.3,155.5 L205.6,154.3 L209.2,152.9 L212.8,151.9 L218.1,151.8 L218.1,147.1 Z" fill="#fff" stroke="#222" stroke-width="0.8"/>
<path d="M95.6,234.0 L102.3,231.9 L107.8,229.3 L113.2,225.2 L118.7,223.8 L121.4,225.8 L118.0,228.6 L116.6,231.9 L119.3,230.6 L124.2,228.6 L130.9,229.3 L132.6,228.8 L136.0,229.4 L138.1,231.6 L137.0,234.3 L134.9,237.1 L136.0,239.2 L140.4,240.9 L143.7,243.0 L143.1,245.8 L145.3,248.5 L144.2,251.8 L143.7,256.1 L106.4,256.1 L109.2,250.2 L113.2,246.8 L117.3,245.4 L122.8,244.7 L122.1,242.7 L117.3,241.4 L110.5,241.4 L105.8,242.1 L104.4,238.7 L99.6,236.0 L95.6,234.7 Z" fill="#fff" stroke="#222" stroke-width="0.8"/>
<path d="M218.1,183.7 L211.9,187.3 L207.9,191.3 L203.8,195.4 L199.7,199.5 L195.6,203.5 L192.4,207.2 L187.8,209.2 L180.1,213.6 L176.4,211.6 L172.6,210.5 L170.0,212.9 L165.0,215.5 L162.4,219.2 L161.1,223.6 L158.0,224.5 L152.5,227.8 L149.2,230.4 L149.2,232.7 L152.5,234.8 L155.7,237.6 L158.0,240.9 L159.6,245.3 L159.1,249.7 L158.0,256.1 L176.4,256.1 L177.7,253.2 L182.7,251.4 L194.1,250.7 L197.9,248.2 L199.2,244.4 L200.5,241.9 L203.0,243.1 L208.1,241.9 L213.1,238.8 L218.1,235.0 Z" fill="#fff" stroke="#222" stroke-width="0.8"/>
</g>
<g clip-path="url(#cc)"><path d="M165.2,192.4 L172.2,189.2 L178.5,187.1 L184.9,184.5 L192.5,181.6 L196.3,179.5 L198.8,175.6 L201.3,172.6 L205.2,170.6 L210.2,168.2 L215.3,166.2 L217.5,165.5" fill="none" stroke="#000" stroke-width="1.2" stroke-linecap="round" stroke-linejoin="round"/></g>
<g clip-path="url(#cc)">
<path d="M46.4,157.5 C46.7,157.3 46.9,157.0 48.0,156.5 C49.1,156.0 51.5,155.0 53.3,154.4 C55.0,153.8 56.8,153.2 58.5,152.8 C60.2,152.4 62.4,152.0 63.8,151.7 C65.2,151.4 66.5,151.1 67.0,151.0" fill="none" stroke="#111" stroke-width="1.1" stroke-linejoin="round" stroke-linecap="round"/>
<path d="M36.4,164.9 C36.8,165.3 37.8,166.5 38.5,167.5 C39.2,168.5 39.2,169.8 40.6,170.7 C42.0,171.5 43.7,172.2 46.9,172.6 C50.1,173.0 55.8,173.5 59.6,173.3 C63.5,173.1 67.2,172.1 70.0,171.5 C72.8,170.9 74.3,170.1 76.4,169.6 C78.5,169.1 80.7,168.2 82.8,168.3 C84.9,168.4 87.1,169.6 89.2,170.3 C91.3,171.1 93.7,172.0 95.6,172.8 C97.5,173.7 99.4,174.3 100.8,175.4 C102.2,176.5 103.4,177.5 104.0,179.2 C104.6,180.9 104.5,183.2 104.6,185.6 C104.7,187.9 104.5,191.0 104.6,193.3 C104.7,195.7 105.0,198.2 105.3,199.7 C105.6,201.2 105.7,202.0 106.5,202.3 C107.3,202.7 108.5,202.4 110.0,201.8 C111.5,201.2 113.7,200.1 115.6,199.0 C117.5,197.9 119.3,196.7 121.2,195.3 C123.1,193.9 125.1,191.8 126.8,190.6 C128.5,189.4 130.0,188.6 131.4,188.3 C132.8,188.0 134.1,188.4 135.2,188.8 C136.3,189.2 137.4,189.8 138.0,190.6 C138.6,191.4 138.8,192.9 138.9,193.4" fill="none" stroke="#111" stroke-width="1.1" stroke-linejoin="round" stroke-linecap="round"/>
<path d="M125.0,209.1 C124.3,209.8 122.3,211.7 121.1,213.0 C119.9,214.3 118.4,215.7 117.8,217.0 C117.2,218.3 117.0,219.8 117.2,220.9 C117.4,222.0 118.9,223.1 119.2,223.5" fill="none" stroke="#111" stroke-width="1.1" stroke-linejoin="round" stroke-linecap="round"/>
<path d="M28.0,184.6 C29.1,184.8 31.1,185.8 34.3,185.9 C37.4,186.0 42.7,185.6 46.9,185.3 C51.1,185.0 55.8,184.8 59.6,184.0 C63.4,183.2 66.9,181.8 69.7,180.8 C72.5,179.8 74.2,178.6 76.4,178.0 C78.6,177.4 80.7,177.1 82.8,177.3 C84.9,177.5 87.6,178.1 89.2,179.2 C90.8,180.3 92.0,182.3 92.4,183.7 C92.8,185.1 92.5,186.4 91.8,187.6 C91.1,188.8 89.9,190.0 88.0,190.8 C86.1,191.7 82.9,192.0 80.3,192.7 C77.7,193.3 75.0,193.7 72.2,194.7 C69.4,195.7 65.7,197.4 63.4,198.5 C61.1,199.6 59.3,200.6 58.5,201.0" fill="none" stroke="#111" stroke-width="1.1" stroke-linejoin="round" stroke-linecap="round"/>
<path d="M38.6,215.0 C37.7,215.7 35.1,217.5 33.3,218.9 C31.5,220.3 28.9,222.8 28.0,223.6" fill="none" stroke="#111" stroke-width="1.1" stroke-linejoin="round" stroke-linecap="round"/>
<path d="M51.2,256.0 C50.9,255.3 49.6,253.4 49.2,252.1 C48.8,250.8 48.4,249.2 48.6,248.1 C48.8,247.0 50.3,245.9 50.6,245.5" fill="none" stroke="#111" stroke-width="1.1" stroke-linejoin="round" stroke-linecap="round"/>
<path d="M69.8,233.6 C70.6,232.8 72.7,230.8 74.5,228.8 C76.3,226.8 78.5,223.8 80.5,221.7 C82.5,219.6 84.2,217.8 86.4,216.3 C88.6,214.8 91.4,213.2 93.6,212.7 C95.8,212.2 97.9,212.8 99.5,213.3 C101.1,213.8 101.9,214.4 103.1,215.7 C104.3,217.0 106.3,219.2 106.7,220.9 C107.1,222.6 106.1,224.6 105.4,226.1 C104.8,227.6 103.7,228.9 102.8,230.0 C101.9,231.1 100.6,232.2 100.2,232.6" fill="none" stroke="#111" stroke-width="1.1" stroke-linejoin="round" stroke-linecap="round"/>
<path d="M90.6,223.5 C91.1,223.8 93.2,224.3 93.6,225.2 C94.0,226.1 93.4,227.6 93.0,228.8 C92.6,230.0 91.6,231.2 91.2,232.4 C90.8,233.6 90.5,234.6 90.6,236.0 C90.7,237.4 91.1,239.1 91.8,240.7 C92.5,242.3 93.9,243.9 94.8,245.5 C95.7,247.1 96.5,248.4 97.1,250.2 C97.7,251.9 98.1,255.0 98.3,256.0" fill="none" stroke="#111" stroke-width="1.1" stroke-linejoin="round" stroke-linecap="round"/>
<path d="M75.7,239.5 C75.5,240.3 74.9,242.5 74.5,244.3 C74.1,246.1 73.6,248.2 73.3,250.2 C73.0,252.1 72.8,255.0 72.7,256.0" fill="none" stroke="#111" stroke-width="1.1" stroke-linejoin="round" stroke-linecap="round"/>
<path d="M80.5,256.0 C80.9,255.3 81.9,253.0 82.9,252.0 C83.9,251.0 85.2,250.3 86.4,250.2 C87.6,250.1 89.0,250.4 90.0,251.4 C91.0,252.4 92.0,255.2 92.4,256.0" fill="none" stroke="#111" stroke-width="1.1" stroke-linejoin="round" stroke-linecap="round"/>
<path d="M128.5,153.8 C126.5,153.9 120.5,154.3 116.8,154.6 C113.1,154.9 109.7,155.0 106.5,155.4 C103.3,155.8 99.9,156.1 97.7,156.8 C95.5,157.5 94.0,158.9 93.3,159.8 C92.6,160.8 93.0,161.5 93.5,162.5 C94.0,163.5 94.5,164.9 96.0,166.0 C97.5,167.1 100.6,168.3 102.5,169.2 C104.4,170.1 106.5,170.5 107.5,171.5 C108.5,172.5 108.5,173.3 108.7,175.0 C108.9,176.7 108.5,180.0 108.7,181.8 C108.9,183.6 109.2,184.5 109.8,185.6 C110.4,186.7 111.3,187.6 112.3,188.2 C113.3,188.8 114.1,189.6 115.6,189.2 C117.1,188.8 119.3,187.2 121.2,186.0 C123.1,184.8 124.9,183.2 126.8,182.3 C128.7,181.5 130.5,181.1 132.4,180.9 C134.3,180.7 136.3,180.8 138.0,181.3 C139.7,181.8 141.4,182.8 142.6,184.1 C143.8,185.3 144.8,186.9 145.4,188.8 C146.0,190.7 146.4,193.1 146.4,195.3 C146.4,197.5 146.0,199.8 145.4,201.8 C144.8,203.8 143.5,205.8 142.6,207.4 C141.7,209.0 140.8,210.6 139.8,211.5 C138.8,212.4 138.2,212.5 136.8,213.0 C135.4,213.5 133.0,213.5 131.6,214.4 C130.2,215.3 128.9,216.8 128.3,218.3 C127.8,219.8 127.8,222.0 128.3,223.5 C128.9,225.0 130.7,226.5 131.6,227.4 C132.5,228.3 133.6,228.7 134.0,229.0" fill="none" stroke="#111" stroke-width="1.1" stroke-linejoin="round" stroke-linecap="round"/>
<path d="M148.0,157.5 C149.0,158.1 151.9,160.1 154.1,161.3 C156.3,162.6 159.1,163.9 161.4,165.0 C163.7,166.1 165.6,167.1 168.0,168.0 C170.4,168.9 172.9,169.7 175.7,170.5 C178.5,171.3 182.3,172.9 184.7,173.1 C187.0,173.3 188.4,172.9 189.8,171.8 C191.2,170.7 192.2,168.2 193.0,166.7 C193.8,165.2 193.9,163.7 194.9,162.8 C195.9,161.9 197.5,161.4 198.8,161.5 C200.1,161.6 201.7,162.4 202.6,163.5 C203.5,164.6 204.5,166.7 204.5,168.0 C204.5,169.3 203.3,169.5 202.6,171.2 C201.9,172.9 200.9,176.0 200.1,178.2 C199.2,180.4 198.4,182.5 197.5,184.6 C196.6,186.7 195.8,188.9 194.9,191.0 C194.1,193.1 193.2,195.3 192.4,197.4 C191.7,199.5 190.9,202.1 190.4,203.5 C189.9,204.9 189.7,205.6 189.5,206.0" fill="none" stroke="#111" stroke-width="1.1" stroke-linejoin="round" stroke-linecap="round"/>
<path d="M165.5,177.0 C164.8,176.8 163.3,175.9 161.4,175.9 C159.5,175.9 156.1,176.4 154.1,177.1 C152.1,177.8 150.1,178.6 149.3,180.2 C148.5,181.8 149.0,184.7 149.3,186.8 C149.6,188.9 150.3,191.3 151.1,192.9 C151.9,194.5 152.8,196.0 154.1,196.5 C155.4,197.0 157.4,196.5 159.0,195.9 C160.6,195.3 163.0,193.4 163.8,192.9" fill="none" stroke="#111" stroke-width="1.1" stroke-linejoin="round" stroke-linecap="round"/>
<path d="M116.3,176.5 C116.6,175.4 116.8,171.7 118.3,170.1 C119.8,168.5 123.1,167.7 125.0,166.8 C126.9,166.0 128.1,165.4 129.9,165.0 C131.7,164.6 134.2,164.2 135.9,164.4 C137.6,164.6 139.3,165.3 140.2,166.2 C141.1,167.1 141.5,168.6 141.4,169.8 C141.3,171.0 140.4,172.8 139.6,173.5 C138.8,174.2 137.3,173.8 136.5,174.1 C135.7,174.3 134.8,174.8 134.5,175.0" fill="none" stroke="#111" stroke-width="1.1" stroke-linejoin="round" stroke-linecap="round"/>
<path d="M218.0,175.7 L214.5,178.0" fill="none" stroke="#111" stroke-width="1.1" stroke-linejoin="round" stroke-linecap="round"/>
<path d="M199.3,195.0 L196.3,198.8" fill="none" stroke="#111" stroke-width="1.1" stroke-linejoin="round" stroke-linecap="round"/>
<ellipse cx="185.3" cy="193.6" rx="1.5" ry="2.9" transform="rotate(20 185.3 193.6)" fill="none" stroke="#111" stroke-width="1.1"/>
<g transform="translate(76.0,150.8) rotate(-12)"><rect x="-10.8" y="-4.6" width="21.5" height="9.1" fill="#fff"/><text x="0" y="3.46" font-size="9.6" text-anchor="middle">0.00</text></g>
<g transform="translate(132.5,201.5) rotate(-58)"><rect x="-10.8" y="-4.6" width="21.5" height="9.1" fill="#fff"/><text x="0" y="3.46" font-size="9.6" text-anchor="middle">0.06</text></g>
<g transform="translate(46.6,206.8) rotate(-40)"><rect x="-10.8" y="-4.6" width="21.5" height="9.1" fill="#fff"/><text x="0" y="3.46" font-size="9.6" text-anchor="middle">0.00</text></g>
<g transform="translate(59.6,239.0) rotate(-42)"><rect x="-10.8" y="-4.6" width="21.5" height="9.1" fill="#fff"/><text x="0" y="3.46" font-size="9.6" text-anchor="middle">0.06</text></g>
<g transform="translate(83.0,231.0) rotate(-58)"><rect x="-10.8" y="-4.6" width="21.5" height="9.1" fill="#fff"/><text x="0" y="3.46" font-size="9.6" text-anchor="middle">0.12</text></g>
<g transform="translate(138.3,153.9) rotate(18)"><rect x="-10.8" y="-4.6" width="21.5" height="9.1" fill="#fff"/><text x="0" y="3.46" font-size="9.6" text-anchor="middle">0.12</text></g>
<g transform="translate(167.6,185.5) rotate(-78)"><rect x="-10.8" y="-4.6" width="21.5" height="9.1" fill="#fff"/><text x="0" y="3.46" font-size="9.6" text-anchor="middle">0.18</text></g>
<g transform="translate(125.0,178.2) rotate(-28)"><rect x="-10.8" y="-4.6" width="21.5" height="9.1" fill="#fff"/><text x="0" y="3.46" font-size="9.6" text-anchor="middle">0.18</text></g>
<g transform="translate(207.0,186.5) rotate(-58)"><rect x="-10.8" y="-4.6" width="21.5" height="9.1" fill="#fff"/><text x="0" y="3.46" font-size="9.6" text-anchor="middle">0.06</text></g>
<g transform="translate(207.5,248.5) rotate(-32)"><rect x="-10.8" y="-4.6" width="21.5" height="9.1" fill="#fff"/><text x="0" y="3.46" font-size="9.6" text-anchor="middle">0.06</text></g>
<g transform="translate(162.6,149.6) rotate(0)"><rect x="-10.8" y="-4.6" width="21.5" height="9.1" fill="#fff"/><text x="0" y="3.46" font-size="9.6" text-anchor="middle">0.00</text></g>
</g>
<rect x="28.4" y="148.2" width="188.6" height="106.80000000000001" fill="none" stroke="#404040" stroke-width="1.0"/>
<line x1="25.40" y1="174.90" x2="28.40" y2="174.90" stroke="#404040" stroke-width="0.8"/>
<text x="24.60" y="178.50" font-size="10" text-anchor="end" >50°N</text>
<line x1="25.40" y1="228.30" x2="28.40" y2="228.30" stroke="#404040" stroke-width="0.8"/>
<text x="24.60" y="231.90" font-size="10" text-anchor="end" >40°N</text>
<line x1="55.34" y1="255.00" x2="55.34" y2="258.00" stroke="#404040" stroke-width="0.8"/>
<text x="55.34" y="266.20" font-size="10" text-anchor="middle" >110°E</text>
<line x1="109.23" y1="255.00" x2="109.23" y2="258.00" stroke="#404040" stroke-width="0.8"/>
<text x="109.23" y="266.20" font-size="10" text-anchor="middle" >120°E</text>
<line x1="163.11" y1="255.00" x2="163.11" y2="258.00" stroke="#404040" stroke-width="0.8"/>
<text x="163.11" y="266.20" font-size="10" text-anchor="middle" >130°E</text>
<line x1="217.00" y1="255.00" x2="217.00" y2="258.00" stroke="#404040" stroke-width="0.8"/>
<text x="217.00" y="266.20" font-size="10" text-anchor="middle" >140°E</text>
<text x="21.40" y="142.60" font-size="12" text-anchor="start" font-family="Liberation Serif, serif" stroke="#000" stroke-width="0.3">(c)</text>
<text x="38.30" y="142.60" font-size="9.8" text-anchor="start" >WUE(MAM) PC1 reg.GPP(MAM)</text>
<clipPath id="cd"><rect x="272.3" y="148.2" width="188.39999999999998" height="106.80000000000001"/></clipPath>
<g clip-path="url(#cd)"><g filter="url(#blurcd)">
<filter id="blurcd" x="-5%" y="-5%" width="110%" height="110%"><feGaussianBlur stdDeviation="0.8"/></filter>
<rect x="306.71" y="147.90" width="5.56" height="5.69" fill="#d8eaf8"/>
<rect x="311.66" y="147.90" width="5.56" height="5.69" fill="#aacff0"/>
<rect x="316.62" y="147.90" width="5.56" height="5.69" fill="#d8eaf8"/>
<rect x="321.58" y="147.90" width="20.43" height="5.69" fill="#aacff0"/>
<rect x="341.41" y="147.90" width="5.56" height="5.69" fill="#d8eaf8"/>
<rect x="346.37" y="147.90" width="5.56" height="5.69" fill="#aacff0"/>
<rect x="351.33" y="147.90" width="5.56" height="5.69" fill="#d8eaf8"/>
<rect x="356.28" y="147.90" width="15.47" height="5.69" fill="#aacff0"/>
<rect x="371.16" y="147.90" width="5.56" height="5.69" fill="#d8eaf8"/>
<rect x="376.12" y="147.90" width="15.47" height="5.69" fill="#aacff0"/>
<rect x="390.99" y="147.90" width="5.56" height="5.69" fill="#4585cf"/>
<rect x="395.95" y="147.90" width="5.56" height="5.69" fill="#aacff0"/>
<rect x="400.91" y="147.90" width="5.56" height="5.69" fill="#d8eaf8"/>
<rect x="405.86" y="147.90" width="10.52" height="5.69" fill="#aacff0"/>
<rect x="435.61" y="147.90" width="5.56" height="5.69" fill="#aacff0"/>
<rect x="440.57" y="147.90" width="5.56" height="5.69" fill="#4585cf"/>
<rect x="301.75" y="152.99" width="30.35" height="5.69" fill="#aacff0"/>
<rect x="331.49" y="152.99" width="5.56" height="5.69" fill="#d8eaf8"/>
<rect x="351.33" y="152.99" width="10.52" height="5.69" fill="#aacff0"/>
<rect x="361.24" y="152.99" width="5.56" height="5.69" fill="#d8eaf8"/>
<rect x="366.20" y="152.99" width="5.56" height="5.69" fill="#aacff0"/>
<rect x="371.16" y="152.99" width="5.56" height="5.69" fill="#4585cf"/>
<rect x="376.12" y="152.99" width="5.56" height="5.69" fill="#d8eaf8"/>
<rect x="381.07" y="152.99" width="15.47" height="5.69" fill="#aacff0"/>
<rect x="395.95" y="152.99" width="5.56" height="5.69" fill="#4585cf"/>
<rect x="400.91" y="152.99" width="10.52" height="5.69" fill="#aacff0"/>
<rect x="410.82" y="152.99" width="5.56" height="5.69" fill="#d8eaf8"/>
<rect x="435.61" y="152.99" width="5.56" height="5.69" fill="#aacff0"/>
<rect x="440.57" y="152.99" width="10.52" height="5.69" fill="#4585cf"/>
<rect x="450.48" y="152.99" width="10.52" height="5.69" fill="#aacff0"/>
<rect x="331.49" y="158.07" width="5.56" height="5.69" fill="#d8eaf8"/>
<rect x="351.33" y="158.07" width="5.56" height="5.69" fill="#aacff0"/>
<rect x="356.28" y="158.07" width="5.56" height="5.69" fill="#d8eaf8"/>
<rect x="361.24" y="158.07" width="5.56" height="5.69" fill="#4585cf"/>
<rect x="371.16" y="158.07" width="5.56" height="5.69" fill="#d8eaf8"/>
<rect x="376.12" y="158.07" width="20.43" height="5.69" fill="#aacff0"/>
<rect x="395.95" y="158.07" width="5.56" height="5.69" fill="#d8eaf8"/>
<rect x="400.91" y="158.07" width="5.56" height="5.69" fill="#aacff0"/>
<rect x="405.86" y="158.07" width="10.52" height="5.69" fill="#4585cf"/>
<rect x="415.78" y="158.07" width="5.56" height="5.69" fill="#aacff0"/>
<rect x="430.65" y="158.07" width="5.56" height="5.69" fill="#aacff0"/>
<rect x="435.61" y="158.07" width="20.43" height="5.69" fill="#4585cf"/>
<rect x="455.44" y="158.07" width="5.56" height="5.69" fill="#aacff0"/>
<rect x="341.41" y="163.16" width="10.52" height="5.69" fill="#d8eaf8"/>
<rect x="351.33" y="163.16" width="10.52" height="5.69" fill="#aacff0"/>
<rect x="361.24" y="163.16" width="5.56" height="5.69" fill="#4585cf"/>
<rect x="366.20" y="163.16" width="5.56" height="5.69" fill="#aacff0"/>
<rect x="371.16" y="163.16" width="10.52" height="5.69" fill="#4585cf"/>
<rect x="381.07" y="163.16" width="5.56" height="5.69" fill="#aacff0"/>
<rect x="386.03" y="163.16" width="5.56" height="5.69" fill="#d8eaf8"/>
<rect x="390.99" y="163.16" width="10.52" height="5.69" fill="#aacff0"/>
<rect x="400.91" y="163.16" width="5.56" height="5.69" fill="#d8eaf8"/>
<rect x="405.86" y="163.16" width="10.52" height="5.69" fill="#4585cf"/>
<rect x="415.78" y="163.16" width="20.43" height="5.69" fill="#aacff0"/>
<rect x="435.61" y="163.16" width="10.52" height="5.69" fill="#4585cf"/>
<rect x="445.53" y="163.16" width="5.56" height="5.69" fill="#aacff0"/>
<rect x="450.48" y="163.16" width="10.52" height="5.69" fill="#4585cf"/>
<rect x="346.37" y="168.24" width="10.52" height="5.69" fill="#d8eaf8"/>
<rect x="356.28" y="168.24" width="5.56" height="5.69" fill="#aacff0"/>
<rect x="361.24" y="168.24" width="10.52" height="5.69" fill="#d8eaf8"/>
<rect x="371.16" y="168.24" width="5.56" height="5.69" fill="#aacff0"/>
<rect x="376.12" y="168.24" width="5.56" height="5.69" fill="#d8eaf8"/>
<rect x="381.07" y="168.24" width="15.47" height="5.69" fill="#aacff0"/>
<rect x="395.95" y="168.24" width="5.56" height="5.69" fill="#d8eaf8"/>
<rect x="400.91" y="168.24" width="10.52" height="5.69" fill="#aacff0"/>
<rect x="410.82" y="168.24" width="10.52" height="5.69" fill="#4585cf"/>
<rect x="420.74" y="168.24" width="10.52" height="5.69" fill="#aacff0"/>
<rect x="430.65" y="168.24" width="10.52" height="5.69" fill="#4585cf"/>
<rect x="440.57" y="168.24" width="5.56" height="5.69" fill="#aacff0"/>
<rect x="445.53" y="168.24" width="5.56" height="5.69" fill="#4585cf"/>
<rect x="450.48" y="168.24" width="5.56" height="5.69" fill="#aacff0"/>
<rect x="455.44" y="168.24" width="5.56" height="5.69" fill="#4585cf"/>
<rect x="351.33" y="173.33" width="5.56" height="5.69" fill="#d8eaf8"/>
<rect x="381.07" y="173.33" width="10.52" height="5.69" fill="#d8eaf8"/>
<rect x="395.95" y="173.33" width="10.52" height="5.69" fill="#aacff0"/>
<rect x="405.86" y="173.33" width="5.56" height="5.69" fill="#d8eaf8"/>
<rect x="410.82" y="173.33" width="15.47" height="5.69" fill="#4585cf"/>
<rect x="425.69" y="173.33" width="10.52" height="5.69" fill="#aacff0"/>
<rect x="435.61" y="173.33" width="25.39" height="5.69" fill="#4585cf"/>
<rect x="272.00" y="178.41" width="5.56" height="5.69" fill="#aacff0"/>
<rect x="276.96" y="178.41" width="5.56" height="5.69" fill="#d8eaf8"/>
<rect x="311.66" y="178.41" width="5.56" height="5.69" fill="#d8eaf8"/>
<rect x="395.95" y="178.41" width="5.56" height="5.69" fill="#d8eaf8"/>
<rect x="400.91" y="178.41" width="5.56" height="5.69" fill="#aacff0"/>
<rect x="405.86" y="178.41" width="5.56" height="5.69" fill="#d8eaf8"/>
<rect x="410.82" y="178.41" width="5.56" height="5.69" fill="#aacff0"/>
<rect x="415.78" y="178.41" width="5.56" height="5.69" fill="#4585cf"/>
<rect x="420.74" y="178.41" width="25.39" height="5.69" fill="#aacff0"/>
<rect x="445.53" y="178.41" width="5.56" height="5.69" fill="#4585cf"/>
<rect x="450.48" y="178.41" width="10.52" height="5.69" fill="#aacff0"/>
<rect x="272.00" y="183.50" width="10.52" height="5.69" fill="#aacff0"/>
<rect x="281.92" y="183.50" width="5.56" height="5.69" fill="#d8eaf8"/>
<rect x="286.87" y="183.50" width="5.56" height="5.69" fill="#aacff0"/>
<rect x="291.83" y="183.50" width="5.56" height="5.69" fill="#7fb5e6"/>
<rect x="296.79" y="183.50" width="10.52" height="5.69" fill="#aacff0"/>
<rect x="306.71" y="183.50" width="5.56" height="5.69" fill="#d8eaf8"/>
<rect x="351.33" y="183.50" width="5.56" height="5.69" fill="#d8eaf8"/>
<rect x="400.91" y="183.50" width="10.52" height="5.69" fill="#d8eaf8"/>
<rect x="410.82" y="183.50" width="15.47" height="5.69" fill="#aacff0"/>
<rect x="425.69" y="183.50" width="5.56" height="5.69" fill="#d8eaf8"/>
<rect x="430.65" y="183.50" width="5.56" height="5.69" fill="#aacff0"/>
<rect x="445.53" y="183.50" width="15.47" height="5.69" fill="#aacff0"/>
<rect x="272.00" y="188.59" width="5.56" height="5.69" fill="#d8eaf8"/>
<rect x="286.87" y="188.59" width="15.47" height="5.69" fill="#d8eaf8"/>
<rect x="351.33" y="188.59" width="5.56" height="5.69" fill="#d8eaf8"/>
<rect x="405.86" y="188.59" width="10.52" height="5.69" fill="#d8eaf8"/>
<rect x="415.78" y="188.59" width="5.56" height="5.69" fill="#aacff0"/>
<rect x="420.74" y="188.59" width="5.56" height="5.69" fill="#d8eaf8"/>
<rect x="425.69" y="188.59" width="5.56" height="5.69" fill="#aacff0"/>
<rect x="440.57" y="188.59" width="5.56" height="5.69" fill="#d8eaf8"/>
<rect x="445.53" y="188.59" width="5.56" height="5.69" fill="#aacff0"/>
<rect x="450.48" y="188.59" width="10.52" height="5.69" fill="#d8eaf8"/>
<rect x="286.87" y="193.67" width="10.52" height="5.69" fill="#d8eaf8"/>
<rect x="361.24" y="193.67" width="5.56" height="5.69" fill="#d8eaf8"/>
<rect x="415.78" y="193.67" width="5.56" height="5.69" fill="#d8eaf8"/>
<rect x="420.74" y="193.67" width="5.56" height="5.69" fill="#aacff0"/>
<rect x="425.69" y="193.67" width="5.56" height="5.69" fill="#d8eaf8"/>
<rect x="435.61" y="193.67" width="15.47" height="5.69" fill="#d8eaf8"/>
<rect x="366.20" y="198.76" width="10.52" height="5.69" fill="#d8eaf8"/>
<rect x="376.12" y="198.76" width="5.56" height="5.69" fill="#aacff0"/>
<rect x="381.07" y="198.76" width="20.43" height="5.69" fill="#d8eaf8"/>
<rect x="400.91" y="198.76" width="5.56" height="5.69" fill="#aacff0"/>
<rect x="405.86" y="198.76" width="15.47" height="5.69" fill="#d8eaf8"/>
<rect x="371.16" y="203.84" width="10.52" height="5.69" fill="#d8eaf8"/>
<rect x="386.03" y="203.84" width="10.52" height="5.69" fill="#d8eaf8"/>
<rect x="400.91" y="203.84" width="5.56" height="5.69" fill="#d8eaf8"/>
<rect x="286.87" y="214.01" width="5.56" height="5.69" fill="#d8eaf8"/>
<rect x="326.54" y="214.01" width="5.56" height="5.69" fill="#d8eaf8"/>
<rect x="286.87" y="219.10" width="10.52" height="5.69" fill="#d8eaf8"/>
<rect x="301.75" y="219.10" width="5.56" height="5.69" fill="#d8eaf8"/>
<rect x="281.92" y="224.19" width="10.52" height="5.69" fill="#d8eaf8"/>
<rect x="291.83" y="224.19" width="5.56" height="5.69" fill="#aacff0"/>
<rect x="296.79" y="224.19" width="10.52" height="5.69" fill="#d8eaf8"/>
<rect x="306.71" y="224.19" width="15.47" height="5.69" fill="#aacff0"/>
<rect x="321.58" y="224.19" width="5.56" height="5.69" fill="#d8eaf8"/>
<rect x="281.92" y="229.27" width="25.39" height="5.69" fill="#d8eaf8"/>
<rect x="306.71" y="229.27" width="5.56" height="5.69" fill="#aacff0"/>
<rect x="311.66" y="229.27" width="5.56" height="5.69" fill="#d8eaf8"/>
<rect x="316.62" y="229.27" width="5.56" height="5.69" fill="#aacff0"/>
<rect x="321.58" y="229.27" width="5.56" height="5.69" fill="#d8eaf8"/>
<rect x="281.92" y="234.36" width="5.56" height="5.69" fill="#d8eaf8"/>
<rect x="291.83" y="234.36" width="15.47" height="5.69" fill="#d8eaf8"/>
<rect x="311.66" y="234.36" width="10.52" height="5.69" fill="#d8eaf8"/>
</g></g>
<g clip-path="url(#cd)" stroke-linejoin="round">
<path d="M292.6,147.1 L289.3,152.3 L284.5,156.3 L279.1,160.1 L275.0,162.7 L273.3,164.4 L273.7,165.2 L275.0,165.1 L278.4,163.7 L283.8,161.0 L289.3,158.3 L293.3,155.6 L296.7,152.3 L298.1,147.1 Z" fill="none" stroke="#222" stroke-width="0.8"/>
<path d="M291.9,150.2 L285.8,156.0 L281.1,159.3 L276.4,162.4" fill="none" stroke="#333" stroke-width="0.6"/>
<path d="M434.5,147.1 L434.5,148.6 L437.0,149.3 L437.3,150.3 L442.8,150.8 L443.5,153.2 L446.4,152.9 L446.0,155.5 L449.3,154.3 L452.9,152.9 L456.5,151.9 L461.8,151.8 L461.8,147.1 Z" fill="#fff" stroke="#222" stroke-width="0.8"/>
<path d="M339.4,234.0 L346.2,231.9 L351.6,229.3 L357.0,225.2 L362.5,223.8 L365.2,225.8 L361.8,228.6 L360.4,231.9 L363.1,230.6 L367.9,228.6 L374.7,229.3 L376.4,228.8 L379.8,229.4 L381.9,231.6 L380.8,234.3 L378.7,237.1 L379.8,239.2 L384.2,240.9 L387.5,243.0 L386.8,245.8 L389.1,248.5 L388.0,251.8 L387.5,256.1 L350.2,256.1 L353.0,250.2 L357.0,246.8 L361.1,245.4 L366.6,244.7 L365.9,242.7 L361.1,241.4 L354.3,241.4 L349.6,242.1 L348.2,238.7 L343.5,236.0 L339.4,234.7 Z" fill="#fff" stroke="#222" stroke-width="0.8"/>
<path d="M461.8,183.7 L455.7,187.3 L451.6,191.3 L447.5,195.4 L443.4,199.5 L439.3,203.5 L436.1,207.2 L431.5,209.2 L423.9,213.6 L420.1,211.6 L416.4,210.5 L413.8,212.9 L408.7,215.5 L406.2,219.2 L404.9,223.6 L401.8,224.5 L396.3,227.8 L393.0,230.4 L393.0,232.7 L396.3,234.8 L399.5,237.6 L401.8,240.9 L403.4,245.3 L402.8,249.7 L401.8,256.1 L420.1,256.1 L421.4,253.2 L426.5,251.4 L437.8,250.7 L441.6,248.2 L442.9,244.4 L444.2,241.9 L446.7,243.1 L451.8,241.9 L456.8,238.8 L461.8,235.0 Z" fill="#fff" stroke="#222" stroke-width="0.8"/>
</g>
<g clip-path="url(#cd)"><path d="M409.0,192.4 L415.9,189.2 L422.3,187.1 L428.6,184.5 L436.2,181.6 L440.0,179.5 L442.6,175.6 L445.0,172.6 L448.9,170.6 L453.9,168.2 L459.0,166.2 L461.2,165.5" fill="none" stroke="#000" stroke-width="1.2" stroke-linecap="round" stroke-linejoin="round"/></g>
<g clip-path="url(#cd)">
<path d="M277.0,148.0 C277.3,148.8 278.5,151.4 279.0,153.0 C279.5,154.6 279.8,156.7 280.2,157.5 C280.6,158.3 281.3,158.0 281.5,158.1" fill="none" stroke="#111" stroke-width="1.1" stroke-linejoin="round" stroke-linecap="round"/>
<path d="M272.0,234.3 C273.0,233.3 276.2,230.7 277.9,228.5 C279.6,226.3 280.8,223.3 282.3,221.1 C283.8,218.9 284.5,216.5 286.7,215.2 C288.9,213.8 292.2,213.4 295.6,213.0 C299.0,212.6 303.9,213.1 307.3,213.0 C310.7,212.9 313.7,211.9 316.2,212.3 C318.7,212.7 320.1,214.2 322.1,215.2 C324.1,216.2 326.0,217.6 328.0,218.1 C330.0,218.6 332.2,218.4 333.9,218.1 C335.6,217.8 337.3,216.3 338.0,216.0" fill="none" stroke="#111" stroke-width="1.1" stroke-linejoin="round" stroke-linecap="round"/>
<path d="M355.0,203.5 C355.4,203.5 356.0,203.5 357.7,203.5 C359.4,203.5 362.8,203.6 365.3,203.5 C367.8,203.4 370.9,203.6 372.8,202.9 C374.7,202.2 375.6,200.6 376.6,199.1 C377.7,197.6 378.1,195.5 379.1,194.0 C380.2,192.5 381.2,191.6 382.9,190.3 C384.6,189.1 387.8,187.8 389.2,186.5 C390.6,185.2 391.0,183.9 391.1,182.7 C391.2,181.5 390.8,180.2 389.9,179.5 C389.0,178.8 387.5,178.5 385.5,178.3 C383.5,178.1 380.6,178.2 377.9,178.3 C375.1,178.4 371.5,178.6 369.0,178.9 C366.5,179.2 364.6,179.8 362.7,180.2 C360.8,180.6 358.9,181.4 357.7,181.4 C356.4,181.4 356.0,181.0 355.2,180.2 C354.4,179.4 353.9,177.7 352.6,176.4 C351.3,175.1 349.3,173.6 347.6,172.6 C345.9,171.6 344.0,171.1 342.5,170.7 C341.0,170.3 340.4,170.7 338.7,170.2 C336.9,169.7 334.3,168.2 332.0,167.6 C329.7,166.9 327.6,166.6 325.0,166.3 C322.4,166.0 319.1,165.9 316.2,165.7 C313.3,165.5 309.7,165.4 307.4,165.0 C305.1,164.6 304.0,164.3 302.3,163.2 C300.6,162.0 298.8,159.6 297.3,158.1 C295.8,156.6 294.1,154.9 293.5,154.3" fill="none" stroke="#111" stroke-width="1.1" stroke-linejoin="round" stroke-linecap="round"/>
<path d="M272.0,171.4 C273.3,171.3 277.3,170.6 279.6,170.7 C281.9,170.8 284.0,171.2 285.9,172.0 C287.8,172.8 289.2,174.8 290.9,175.8 C292.6,176.9 294.6,177.9 296.0,178.3 C297.4,178.8 298.9,178.5 299.5,178.5" fill="none" stroke="#111" stroke-width="1.1" stroke-linejoin="round" stroke-linecap="round"/>
<path d="M319.5,170.8 C319.9,170.9 320.8,171.2 321.9,171.4 C323.0,171.6 324.6,171.5 326.3,172.0 C328.0,172.5 330.1,173.4 332.0,174.5 C333.9,175.6 335.4,177.6 337.4,178.8 C339.4,180.1 342.0,180.7 343.8,182.0 C345.6,183.3 347.3,184.9 348.3,186.5 C349.3,188.1 349.7,189.9 349.6,191.6 C349.5,193.3 348.6,195.6 347.7,196.8 C346.8,198.0 346.6,198.4 344.5,198.8 C342.4,199.2 338.2,199.1 335.0,199.2 C331.8,199.3 327.4,199.1 325.0,199.2 C322.6,199.3 322.4,199.4 320.6,199.9 C318.8,200.4 315.1,201.7 314.0,202.0" fill="none" stroke="#111" stroke-width="1.1" stroke-linejoin="round" stroke-linecap="round"/>
<path d="M290.0,208.0 C289.2,208.0 287.3,207.5 285.3,208.0 C283.3,208.5 280.1,209.9 277.9,210.8 C275.7,211.8 273.0,213.2 272.0,213.7" fill="none" stroke="#111" stroke-width="1.1" stroke-linejoin="round" stroke-linecap="round"/>
<path d="M314.0,222.8 C309.1,221.9 306.0,222.0 302.9,221.8 C299.8,221.6 297.6,221.4 295.6,221.8 C293.6,222.2 292.8,222.4 291.1,224.0 C289.4,225.6 287.0,228.9 285.3,231.4 C283.6,233.9 281.6,237.3 280.8,238.8 C280.1,240.3 280.3,239.7 280.8,240.2 C281.3,240.7 281.8,241.4 283.8,241.7 C285.8,241.9 289.4,241.4 292.6,241.7 C295.8,241.9 299.7,242.7 302.9,243.2 C306.1,243.7 308.4,244.3 311.8,244.7 C315.2,245.1 320.1,245.9 323.5,245.4 C326.9,244.9 330.2,243.3 332.4,241.7 C334.6,240.1 335.9,237.8 336.8,235.8 C337.7,233.8 337.8,231.2 337.5,229.9 C337.2,228.6 336.2,228.2 335.3,227.7 C334.4,227.2 335.6,227.8 332.0,227.0 C328.4,226.2 318.9,223.7 314.0,222.8 Z" fill="none" stroke="#111" stroke-width="1.1" stroke-linejoin="round" stroke-linecap="round"/>
<path d="M272.0,253.5 C273.2,253.0 277.4,251.3 279.4,250.5 C281.4,249.7 283.2,248.8 284.0,248.5" fill="none" stroke="#111" stroke-width="1.1" stroke-linejoin="round" stroke-linecap="round"/>
<path d="M302.9,247.6 C303.9,247.8 306.8,248.2 308.8,249.1 C310.8,250.0 313.2,251.7 314.7,252.8 C316.2,254.0 317.2,255.5 317.7,256.0" fill="none" stroke="#111" stroke-width="1.1" stroke-linejoin="round" stroke-linecap="round"/>
<path d="M356.0,159.0 C356.8,158.7 358.7,157.1 360.5,157.0 C362.3,156.9 365.3,158.0 367.0,158.3 C368.7,158.6 369.7,159.1 370.8,158.9 C371.9,158.7 372.3,158.2 373.4,157.0 C374.5,155.8 375.9,153.2 377.2,151.9 C378.5,150.6 379.7,150.0 381.0,149.3 C382.3,148.7 384.2,148.2 384.9,148.0" fill="none" stroke="#111" stroke-width="1.1" stroke-linejoin="round" stroke-linecap="round"/>
<path d="M358.6,164.0 C359.6,164.0 362.6,164.3 364.4,164.0 C366.2,163.7 367.8,162.6 369.5,162.1 C371.2,161.6 372.5,161.1 374.6,160.8 C376.7,160.5 379.4,160.2 382.3,160.2 C385.2,160.2 389.1,160.6 392.0,160.8 C394.9,161.0 397.8,160.7 399.8,161.3 C401.9,161.9 403.3,162.7 404.3,164.2 C405.3,165.7 405.2,167.9 405.7,170.1 C406.2,172.3 406.7,175.1 407.2,177.5 C407.7,179.9 408.1,182.6 408.7,184.8 C409.3,187.0 410.0,188.8 410.9,190.7 C411.8,192.6 412.8,194.5 414.0,196.0 C415.2,197.5 416.6,198.7 418.0,199.5 C419.4,200.3 420.9,201.1 422.7,200.9 C424.4,200.7 427.5,198.9 428.5,198.5" fill="none" stroke="#111" stroke-width="1.1" stroke-linejoin="round" stroke-linecap="round"/>
<path d="M443.0,183.8 C444.1,183.7 448.0,183.1 449.9,183.3 C451.8,183.5 452.9,184.4 454.3,184.8 C455.7,185.2 457.4,185.8 458.0,186.0" fill="none" stroke="#111" stroke-width="1.1" stroke-linejoin="round" stroke-linecap="round"/>
<path d="M402.8,148.0 C403.5,148.2 405.0,148.8 407.2,149.5 C409.4,150.2 413.9,151.2 416.0,152.4 C418.1,153.6 418.9,155.1 419.7,156.8 C420.4,158.5 419.9,161.1 420.5,162.7 C421.1,164.3 422.2,165.7 423.4,166.4 C424.6,167.1 426.6,167.3 427.8,167.1 C429.0,166.8 430.2,166.1 430.8,164.9 C431.4,163.7 431.4,161.6 431.5,159.8 C431.6,158.0 431.1,155.6 431.5,153.9 C431.9,152.2 433.2,150.5 433.7,149.5 C434.2,148.5 434.4,148.2 434.5,148.0" fill="none" stroke="#111" stroke-width="1.1" stroke-linejoin="round" stroke-linecap="round"/>
<path d="M366.0,223.6 L372.3,221.0" fill="none" stroke="#111" stroke-width="1.1" stroke-linejoin="round" stroke-linecap="round"/>
<path d="M393.7,219.8 C395.3,219.8 401.5,220.0 403.5,219.8 C405.5,219.6 405.2,218.7 405.5,218.5" fill="none" stroke="#111" stroke-width="1.1" stroke-linejoin="round" stroke-linecap="round"/>
<g transform="translate(309.3,174.4) rotate(-16)"><rect x="-10.8" y="-4.6" width="21.5" height="9.1" fill="#fff"/><text x="0" y="3.46" font-size="9.6" text-anchor="middle">0.00</text></g>
<g transform="translate(301.5,206.6) rotate(-8)"><rect x="-10.8" y="-4.6" width="21.5" height="9.1" fill="#fff"/><text x="0" y="3.46" font-size="9.6" text-anchor="middle">0.00</text></g>
<g transform="translate(345.5,206.5) rotate(-40)"><rect x="-10.8" y="-4.6" width="21.5" height="9.1" fill="#fff"/><text x="0" y="3.46" font-size="9.6" text-anchor="middle">0.02</text></g>
<g transform="translate(323.2,225.4) rotate(15)"><rect x="-10.8" y="-4.6" width="21.5" height="9.1" fill="#fff"/><text x="0" y="3.46" font-size="9.6" text-anchor="middle">0.04</text></g>
<g transform="translate(293.4,246.3) rotate(-5)"><rect x="-10.8" y="-4.6" width="21.5" height="9.1" fill="#fff"/><text x="0" y="3.46" font-size="9.6" text-anchor="middle">0.02</text></g>
<g transform="translate(291.0,254.8) rotate(-5)"><rect x="-10.8" y="-4.6" width="21.5" height="9.1" fill="#fff"/><text x="0" y="3.46" font-size="9.6" text-anchor="middle">0.00</text></g>
<g transform="translate(347.4,161.4) rotate(15)"><rect x="-10.8" y="-4.6" width="21.5" height="9.1" fill="#fff"/><text x="0" y="3.46" font-size="9.6" text-anchor="middle">0.04</text></g>
<g transform="translate(436.5,191.5) rotate(-65)"><rect x="-10.8" y="-4.6" width="21.5" height="9.1" fill="#fff"/><text x="0" y="3.46" font-size="9.6" text-anchor="middle">0.04</text></g>
<g transform="translate(382.4,219.4) rotate(-5)"><rect x="-10.8" y="-4.6" width="21.5" height="9.1" fill="#fff"/><text x="0" y="3.46" font-size="9.6" text-anchor="middle">0.02</text></g>
</g>
<rect x="272.3" y="148.2" width="188.39999999999998" height="106.80000000000001" fill="none" stroke="#404040" stroke-width="1.0"/>
<line x1="269.30" y1="174.90" x2="272.30" y2="174.90" stroke="#404040" stroke-width="0.8"/>
<text x="268.50" y="178.50" font-size="10" text-anchor="end" >50°N</text>
<line x1="269.30" y1="228.30" x2="272.30" y2="228.30" stroke="#404040" stroke-width="0.8"/>
<text x="268.50" y="231.90" font-size="10" text-anchor="end" >40°N</text>
<line x1="299.21" y1="255.00" x2="299.21" y2="258.00" stroke="#404040" stroke-width="0.8"/>
<text x="299.21" y="266.20" font-size="10" text-anchor="middle" >110°E</text>
<line x1="353.04" y1="255.00" x2="353.04" y2="258.00" stroke="#404040" stroke-width="0.8"/>
<text x="353.04" y="266.20" font-size="10" text-anchor="middle" >120°E</text>
<line x1="406.87" y1="255.00" x2="406.87" y2="258.00" stroke="#404040" stroke-width="0.8"/>
<text x="406.87" y="266.20" font-size="10" text-anchor="middle" >130°E</text>
<line x1="460.70" y1="255.00" x2="460.70" y2="258.00" stroke="#404040" stroke-width="0.8"/>
<text x="460.70" y="266.20" font-size="10" text-anchor="middle" >140°E</text>
<text x="263.40" y="142.60" font-size="12" text-anchor="start" font-family="Liberation Serif, serif" stroke="#000" stroke-width="0.3">(d)</text>
<text x="282.30" y="142.60" font-size="9.8" text-anchor="start" >WUE(MAM) PC1 reg.ET(MAM)</text>
<line x1="40.3" y1="398" x2="210.4" y2="294.1" stroke="#000" stroke-width="1.3"/>
<circle cx="84.9" cy="354.9" r="2.85" fill="none" stroke="#000" stroke-width="1.25"/>
<circle cx="96.8" cy="346.8" r="2.85" fill="none" stroke="#000" stroke-width="1.25"/>
<circle cx="84.1" cy="370.1" r="2.85" fill="none" stroke="#000" stroke-width="1.25"/>
<circle cx="88.7" cy="370.3" r="2.85" fill="none" stroke="#000" stroke-width="1.25"/>
<circle cx="94.3" cy="370.1" r="2.85" fill="none" stroke="#000" stroke-width="1.25"/>
<circle cx="98.5" cy="366.6" r="2.85" fill="none" stroke="#000" stroke-width="1.25"/>
<circle cx="98.9" cy="369.2" r="2.85" fill="none" stroke="#000" stroke-width="1.25"/>
<circle cx="99.9" cy="373.6" r="2.85" fill="none" stroke="#000" stroke-width="1.25"/>
<circle cx="90.1" cy="384.8" r="2.85" fill="none" stroke="#000" stroke-width="1.25"/>
<circle cx="113.8" cy="347.5" r="2.85" fill="none" stroke="#000" stroke-width="1.25"/>
<circle cx="116" cy="345.4" r="2.85" fill="none" stroke="#000" stroke-width="1.25"/>
<circle cx="113.1" cy="351" r="2.85" fill="none" stroke="#000" stroke-width="1.25"/>
<circle cx="117.3" cy="357.3" r="2.85" fill="none" stroke="#000" stroke-width="1.25"/>
<circle cx="118.4" cy="344.5" r="2.85" fill="none" stroke="#000" stroke-width="1.25"/>
<circle cx="126.5" cy="339.2" r="2.85" fill="none" stroke="#000" stroke-width="1.25"/>
<circle cx="130.3" cy="338.5" r="2.85" fill="none" stroke="#000" stroke-width="1.25"/>
<circle cx="125.8" cy="349" r="2.85" fill="none" stroke="#000" stroke-width="1.25"/>
<circle cx="126.1" cy="342" r="2.85" fill="none" stroke="#000" stroke-width="1.25"/>
<circle cx="135.9" cy="346.9" r="2.85" fill="none" stroke="#000" stroke-width="1.25"/>
<circle cx="139.4" cy="341.7" r="2.85" fill="none" stroke="#000" stroke-width="1.25"/>
<circle cx="140.8" cy="338.5" r="2.85" fill="none" stroke="#000" stroke-width="1.25"/>
<circle cx="144.3" cy="327" r="2.85" fill="none" stroke="#000" stroke-width="1.25"/>
<circle cx="147.8" cy="339.9" r="2.85" fill="none" stroke="#000" stroke-width="1.25"/>
<circle cx="156.6" cy="312.8" r="2.85" fill="none" stroke="#000" stroke-width="1.25"/>
<circle cx="161.5" cy="312.4" r="2.85" fill="none" stroke="#000" stroke-width="1.25"/>
<circle cx="166.7" cy="319.9" r="2.85" fill="none" stroke="#000" stroke-width="1.25"/>
<circle cx="166.9" cy="333.5" r="2.85" fill="none" stroke="#000" stroke-width="1.25"/>
<circle cx="176.2" cy="314.3" r="2.85" fill="none" stroke="#000" stroke-width="1.25"/>
<circle cx="180.2" cy="318.3" r="2.85" fill="none" stroke="#000" stroke-width="1.25"/>
<circle cx="112.1" cy="351" r="2.85" fill="none" stroke="#000" stroke-width="1.25"/>
<rect x="32.2" y="288.6" width="186.10000000000002" height="114.0" fill="none" stroke="#404040" stroke-width="1.0"/>
<line x1="29.20" y1="288.35" x2="32.20" y2="288.35" stroke="#404040" stroke-width="0.8"/>
<text x="26.70" y="291.85" font-size="9.6" text-anchor="end" >3</text>
<line x1="29.20" y1="307.60" x2="32.20" y2="307.60" stroke="#404040" stroke-width="0.8"/>
<text x="26.70" y="311.10" font-size="9.6" text-anchor="end" >2</text>
<line x1="29.20" y1="326.85" x2="32.20" y2="326.85" stroke="#404040" stroke-width="0.8"/>
<text x="26.70" y="330.35" font-size="9.6" text-anchor="end" >1</text>
<line x1="29.20" y1="346.10" x2="32.20" y2="346.10" stroke="#404040" stroke-width="0.8"/>
<text x="26.70" y="349.60" font-size="9.6" text-anchor="end" >0</text>
<line x1="29.20" y1="365.35" x2="32.20" y2="365.35" stroke="#404040" stroke-width="0.8"/>
<text x="26.70" y="368.85" font-size="9.6" text-anchor="end" >−1</text>
<line x1="29.20" y1="384.60" x2="32.20" y2="384.60" stroke="#404040" stroke-width="0.8"/>
<text x="26.70" y="388.10" font-size="9.6" text-anchor="end" >−2</text>
<line x1="40.95" y1="402.60" x2="40.95" y2="405.60" stroke="#404040" stroke-width="0.8"/>
<text x="40.95" y="416.10" font-size="9.6" text-anchor="middle" >−3</text>
<line x1="69.05" y1="402.60" x2="69.05" y2="405.60" stroke="#404040" stroke-width="0.8"/>
<text x="69.05" y="416.10" font-size="9.6" text-anchor="middle" >−2</text>
<line x1="97.15" y1="402.60" x2="97.15" y2="405.60" stroke="#404040" stroke-width="0.8"/>
<text x="97.15" y="416.10" font-size="9.6" text-anchor="middle" >−1</text>
<line x1="125.25" y1="402.60" x2="125.25" y2="405.60" stroke="#404040" stroke-width="0.8"/>
<text x="125.25" y="416.10" font-size="9.6" text-anchor="middle" >0</text>
<line x1="153.35" y1="402.60" x2="153.35" y2="405.60" stroke="#404040" stroke-width="0.8"/>
<text x="153.35" y="416.10" font-size="9.6" text-anchor="middle" >1</text>
<line x1="181.45" y1="402.60" x2="181.45" y2="405.60" stroke="#404040" stroke-width="0.8"/>
<text x="181.45" y="416.10" font-size="9.6" text-anchor="middle" >2</text>
<line x1="209.55" y1="402.60" x2="209.55" y2="405.60" stroke="#404040" stroke-width="0.8"/>
<text x="209.55" y="416.10" font-size="9.6" text-anchor="middle" >3</text>
<text x="125.20" y="428.20" font-size="9.6" text-anchor="middle" >GPP</text>
<text x="11.30" y="345.80" font-size="9.6" text-anchor="middle" transform="rotate(-90 11.3 345.8)">WUE</text>
<text x="21.30" y="279.20" font-size="12" text-anchor="start" font-family="Liberation Serif, serif" stroke="#000" stroke-width="0.3">(e)</text>
<text x="185.00" y="382.70" font-size="9.6" text-anchor="middle" >R<tspan font-size="6.5" dy="-3.5">2</tspan><tspan dy="3.5">=0.81</tspan></text>
<text x="185.30" y="395.40" font-size="9.6" text-anchor="middle" >p&lt;0.01</text>
<line x1="283.5" y1="397.9" x2="453.7" y2="309.2" stroke="#000" stroke-width="1.3"/>
<circle cx="313.9" cy="381.1" r="2.85" fill="none" stroke="#000" stroke-width="1.25"/>
<circle cx="326.8" cy="354.8" r="2.85" fill="none" stroke="#000" stroke-width="1.25"/>
<circle cx="333" cy="366" r="2.85" fill="none" stroke="#000" stroke-width="1.25"/>
<circle cx="332.6" cy="379.4" r="2.85" fill="none" stroke="#000" stroke-width="1.25"/>
<circle cx="343.1" cy="353.6" r="2.85" fill="none" stroke="#000" stroke-width="1.25"/>
<circle cx="345.5" cy="352.4" r="2.85" fill="none" stroke="#000" stroke-width="1.25"/>
<circle cx="346.6" cy="357.6" r="2.85" fill="none" stroke="#000" stroke-width="1.25"/>
<circle cx="343.1" cy="376.9" r="2.85" fill="none" stroke="#000" stroke-width="1.25"/>
<circle cx="350.8" cy="381.6" r="2.85" fill="none" stroke="#000" stroke-width="1.25"/>
<circle cx="354.1" cy="397.9" r="2.85" fill="none" stroke="#000" stroke-width="1.25"/>
<circle cx="358.3" cy="332.2" r="2.85" fill="none" stroke="#000" stroke-width="1.25"/>
<circle cx="359.4" cy="345.9" r="2.85" fill="none" stroke="#000" stroke-width="1.25"/>
<circle cx="360.1" cy="364.1" r="2.85" fill="none" stroke="#000" stroke-width="1.25"/>
<circle cx="361.8" cy="381.6" r="2.85" fill="none" stroke="#000" stroke-width="1.25"/>
<circle cx="368.8" cy="384.4" r="2.85" fill="none" stroke="#000" stroke-width="1.25"/>
<circle cx="371" cy="358.3" r="2.85" fill="none" stroke="#000" stroke-width="1.25"/>
<circle cx="371" cy="362.9" r="2.85" fill="none" stroke="#000" stroke-width="1.25"/>
<circle cx="376.3" cy="356.6" r="2.85" fill="none" stroke="#000" stroke-width="1.25"/>
<circle cx="378.4" cy="345.5" r="2.85" fill="none" stroke="#000" stroke-width="1.25"/>
<circle cx="384.5" cy="346.2" r="2.85" fill="none" stroke="#000" stroke-width="1.25"/>
<circle cx="384.5" cy="349.7" r="2.85" fill="none" stroke="#000" stroke-width="1.25"/>
<circle cx="386.8" cy="318.2" r="2.85" fill="none" stroke="#000" stroke-width="1.25"/>
<circle cx="391.5" cy="315.9" r="2.85" fill="none" stroke="#000" stroke-width="1.25"/>
<circle cx="397.8" cy="315.2" r="2.85" fill="none" stroke="#000" stroke-width="1.25"/>
<circle cx="400.1" cy="322.6" r="2.85" fill="none" stroke="#000" stroke-width="1.25"/>
<circle cx="407.1" cy="323.8" r="2.85" fill="none" stroke="#000" stroke-width="1.25"/>
<circle cx="395" cy="339.6" r="2.85" fill="none" stroke="#000" stroke-width="1.25"/>
<circle cx="395.5" cy="345.5" r="2.85" fill="none" stroke="#000" stroke-width="1.25"/>
<circle cx="397.3" cy="350.1" r="2.85" fill="none" stroke="#000" stroke-width="1.25"/>
<circle cx="416.4" cy="354.3" r="2.85" fill="none" stroke="#000" stroke-width="1.25"/>
<rect x="275.8" y="288.2" width="186.3" height="114.0" fill="none" stroke="#404040" stroke-width="1.0"/>
<line x1="272.80" y1="288.00" x2="275.80" y2="288.00" stroke="#404040" stroke-width="0.8"/>
<text x="270.30" y="291.50" font-size="9.6" text-anchor="end" >3</text>
<line x1="272.80" y1="309.90" x2="275.80" y2="309.90" stroke="#404040" stroke-width="0.8"/>
<text x="270.30" y="313.40" font-size="9.6" text-anchor="end" >2</text>
<line x1="272.80" y1="331.80" x2="275.80" y2="331.80" stroke="#404040" stroke-width="0.8"/>
<text x="270.30" y="335.30" font-size="9.6" text-anchor="end" >1</text>
<line x1="272.80" y1="353.70" x2="275.80" y2="353.70" stroke="#404040" stroke-width="0.8"/>
<text x="270.30" y="357.20" font-size="9.6" text-anchor="end" >0</text>
<line x1="272.80" y1="375.60" x2="275.80" y2="375.60" stroke="#404040" stroke-width="0.8"/>
<text x="270.30" y="379.10" font-size="9.6" text-anchor="end" >−1</text>
<line x1="272.80" y1="397.50" x2="275.80" y2="397.50" stroke="#404040" stroke-width="0.8"/>
<text x="270.30" y="401.00" font-size="9.6" text-anchor="end" >−2</text>
<line x1="284.30" y1="402.20" x2="284.30" y2="405.20" stroke="#404040" stroke-width="0.8"/>
<text x="284.30" y="415.70" font-size="9.6" text-anchor="middle" >−3</text>
<line x1="312.40" y1="402.20" x2="312.40" y2="405.20" stroke="#404040" stroke-width="0.8"/>
<text x="312.40" y="415.70" font-size="9.6" text-anchor="middle" >−2</text>
<line x1="340.50" y1="402.20" x2="340.50" y2="405.20" stroke="#404040" stroke-width="0.8"/>
<text x="340.50" y="415.70" font-size="9.6" text-anchor="middle" >−1</text>
<line x1="368.60" y1="402.20" x2="368.60" y2="405.20" stroke="#404040" stroke-width="0.8"/>
<text x="368.60" y="415.70" font-size="9.6" text-anchor="middle" >0</text>
<line x1="396.70" y1="402.20" x2="396.70" y2="405.20" stroke="#404040" stroke-width="0.8"/>
<text x="396.70" y="415.70" font-size="9.6" text-anchor="middle" >1</text>
<line x1="424.80" y1="402.20" x2="424.80" y2="405.20" stroke="#404040" stroke-width="0.8"/>
<text x="424.80" y="415.70" font-size="9.6" text-anchor="middle" >2</text>
<line x1="452.90" y1="402.20" x2="452.90" y2="405.20" stroke="#404040" stroke-width="0.8"/>
<text x="452.90" y="415.70" font-size="9.6" text-anchor="middle" >3</text>
<text x="368.60" y="428.20" font-size="9.6" text-anchor="middle" >ET</text>
<text x="254.80" y="345.80" font-size="9.6" text-anchor="middle" transform="rotate(-90 254.8 345.8)">WUE</text>
<text x="261.60" y="279.20" font-size="12" text-anchor="start" font-family="Liberation Serif, serif" stroke="#000" stroke-width="0.3">(f)</text>
<text x="428.90" y="382.70" font-size="9.6" text-anchor="middle" >R<tspan font-size="6.5" dy="-3.5">2</tspan><tspan dy="3.5">=0.39</tspan></text>
<text x="429.00" y="394.70" font-size="9.6" text-anchor="middle" >p&lt;0.01</text>
</svg></body></html>
